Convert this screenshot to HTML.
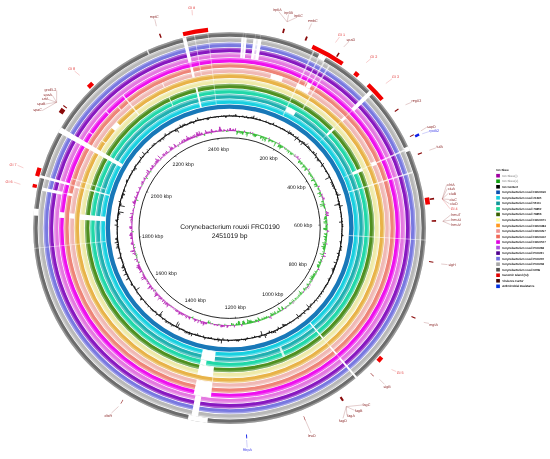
<!DOCTYPE html><html><head><meta charset="utf-8"><title>BRIG</title><style>html,body{margin:0;padding:0;background:#fff}svg{display:block}text{font-family:"Liberation Sans",Arial,sans-serif;text-rendering:geometricPrecision}</style></head><body>
<svg width="550" height="459" viewBox="0 0 550 459">
<rect width="550" height="459" fill="#fff"/>
<g transform="translate(0 228.1) scale(1 0.997) translate(0 -228.1)">
<circle cx="229.6" cy="228.1" r="121.80" fill="none" stroke="#1878b8" stroke-width="4.4"/>
<circle cx="229.6" cy="228.1" r="126.97" fill="none" stroke="#18d0e0" stroke-width="4.4"/>
<circle cx="229.6" cy="228.1" r="128.42" fill="none" stroke="#fff" stroke-opacity="0.3" stroke-width="1.5"/>
<circle cx="229.6" cy="228.1" r="132.14" fill="none" stroke="#20b0b0" stroke-width="4.4"/>
<circle cx="229.6" cy="228.1" r="133.59" fill="none" stroke="#fff" stroke-opacity="0.3" stroke-width="1.5"/>
<circle cx="229.6" cy="228.1" r="137.31" fill="none" stroke="#20d8a8" stroke-width="4.4"/>
<circle cx="229.6" cy="228.1" r="138.76" fill="none" stroke="#fff" stroke-opacity="0.3" stroke-width="1.5"/>
<circle cx="229.6" cy="228.1" r="142.48" fill="none" stroke="#4f9020" stroke-width="4.4"/>
<circle cx="229.6" cy="228.1" r="143.93" fill="none" stroke="#fff" stroke-opacity="0.3" stroke-width="1.5"/>
<circle cx="229.6" cy="228.1" r="147.65" fill="none" stroke="#eeeaa8" stroke-width="4.4"/>
<circle cx="229.6" cy="228.1" r="149.10" fill="none" stroke="#fff" stroke-opacity="0.3" stroke-width="1.5"/>
<circle cx="229.6" cy="228.1" r="152.82" fill="none" stroke="#e8b348" stroke-width="4.4"/>
<circle cx="229.6" cy="228.1" r="154.27" fill="none" stroke="#fff" stroke-opacity="0.3" stroke-width="1.5"/>
<circle cx="229.6" cy="228.1" r="157.99" fill="none" stroke="#f0b8b4" stroke-width="4.4"/>
<circle cx="229.6" cy="228.1" r="159.44" fill="none" stroke="#fff" stroke-opacity="0.3" stroke-width="1.5"/>
<circle cx="229.6" cy="228.1" r="163.16" fill="none" stroke="#ee8478" stroke-width="4.4"/>
<circle cx="229.6" cy="228.1" r="164.61" fill="none" stroke="#fff" stroke-opacity="0.3" stroke-width="1.5"/>
<circle cx="229.6" cy="228.1" r="168.33" fill="none" stroke="#ee10ee" stroke-width="4.4"/>
<circle cx="229.6" cy="228.1" r="169.78" fill="none" stroke="#fff" stroke-opacity="0.3" stroke-width="1.5"/>
<circle cx="229.6" cy="228.1" r="173.50" fill="none" stroke="#e478e0" stroke-width="4.4"/>
<circle cx="229.6" cy="228.1" r="174.95" fill="none" stroke="#fff" stroke-opacity="0.3" stroke-width="1.5"/>
<circle cx="229.6" cy="228.1" r="178.67" fill="none" stroke="#8818c0" stroke-width="4.4"/>
<circle cx="229.6" cy="228.1" r="180.12" fill="none" stroke="#fff" stroke-opacity="0.3" stroke-width="1.5"/>
<circle cx="229.6" cy="228.1" r="183.84" fill="none" stroke="#7878e0" stroke-width="4.4"/>
<circle cx="229.6" cy="228.1" r="185.29" fill="none" stroke="#fff" stroke-opacity="0.3" stroke-width="1.5"/>
<circle cx="229.6" cy="228.1" r="189.01" fill="none" stroke="#b8b8b8" stroke-width="4.4"/>
<circle cx="229.6" cy="228.1" r="190.46" fill="none" stroke="#fff" stroke-opacity="0.3" stroke-width="1.5"/>
<circle cx="229.6" cy="228.1" r="194.18" fill="none" stroke="#6c6c6c" stroke-width="4.4"/>
<circle cx="229.6" cy="228.1" r="195.63" fill="none" stroke="#fff" stroke-opacity="0.3" stroke-width="1.5"/>
<path d="M185.44,49.64A183.84,183.84 0 0 1 188.87,48.83" fill="none" stroke="#fff" stroke-opacity="1" stroke-width="25.68"/>
<path d="M189.45,64.63A168.33,168.33 0 0 1 191.73,64.08" fill="none" stroke="#fff" stroke-opacity="0.35" stroke-width="5.00"/>
<path d="M191.30,72.16A160.57,160.57 0 0 1 193.75,71.58" fill="none" stroke="#fff" stroke-opacity="1" stroke-width="10.17"/>
<path d="M197.69,97.21A134.73,134.73 0 0 1 199.52,96.78" fill="none" stroke="#fff" stroke-opacity="1" stroke-width="20.51"/>
<path d="M197.51,54.96A176.08,176.08 0 0 1 198.42,54.80" fill="none" stroke="#fff" stroke-opacity="0.5" stroke-width="41.19"/>
<path d="M211.70,68.53A160.57,160.57 0 0 1 212.54,68.43" fill="none" stroke="#fff" stroke-opacity="0.5" stroke-width="72.21"/>
<path d="M240.98,47.20A181.25,181.25 0 0 1 245.71,47.56" fill="none" stroke="#fff" stroke-opacity="0.8" stroke-width="20.51"/>
<path d="M240.98,47.20A181.25,181.25 0 0 1 242.72,47.32" fill="none" stroke="#fff" stroke-opacity="1" stroke-width="20.51"/>
<path d="M243.82,47.40A181.25,181.25 0 0 1 245.71,47.56" fill="none" stroke="#fff" stroke-opacity="1" stroke-width="20.51"/>
<path d="M242.81,34.37A194.18,194.18 0 0 1 243.48,34.42" fill="none" stroke="#fff" stroke-opacity="0.3" stroke-width="5.00"/>
<path d="M245.51,34.57A194.18,194.18 0 0 1 246.19,34.63" fill="none" stroke="#fff" stroke-opacity="0.3" stroke-width="5.00"/>
<path d="M252.32,48.27A181.25,181.25 0 0 1 259.83,49.38" fill="none" stroke="#fff" stroke-opacity="0.75" stroke-width="20.51"/>
<path d="M252.32,48.27A181.25,181.25 0 0 1 254.83,48.61" fill="none" stroke="#fff" stroke-opacity="1" stroke-width="20.51"/>
<path d="M256.70,48.88A181.25,181.25 0 0 1 259.83,49.38" fill="none" stroke="#fff" stroke-opacity="1" stroke-width="20.51"/>
<path d="M254.95,35.58A194.18,194.18 0 0 1 255.62,35.67" fill="none" stroke="#fff" stroke-opacity="0.3" stroke-width="5.00"/>
<path d="M259.98,36.31A194.18,194.18 0 0 1 260.65,36.42" fill="none" stroke="#fff" stroke-opacity="0.3" stroke-width="5.00"/>
<path d="M270.76,75.56A157.99,157.99 0 0 1 282.34,79.17" fill="none" stroke="#fff" stroke-opacity="1" stroke-width="5.00"/>
<path d="M296.62,85.03A157.99,157.99 0 0 1 308.83,91.41" fill="none" stroke="#fff" stroke-opacity="1" stroke-width="5.00"/>
<path d="M306.70,84.31A163.16,163.16 0 0 1 310.69,86.52" fill="none" stroke="#fff" stroke-opacity="1" stroke-width="5.00"/>
<path d="M286.28,108.73A132.14,132.14 0 0 1 294.87,113.20" fill="none" stroke="#fff" stroke-opacity="1" stroke-width="5.00"/>
<path d="M297.72,82.69A160.57,160.57 0 0 1 298.98,83.29" fill="none" stroke="#fff" stroke-opacity="0.6" stroke-width="72.21"/>
<path d="M318.36,55.39A194.18,194.18 0 0 1 324.92,58.93" fill="none" stroke="#fff" stroke-opacity="1" stroke-width="5.00"/>
<path d="M310.63,71.77A176.08,176.08 0 0 1 311.72,72.34" fill="none" stroke="#fff" stroke-opacity="0.6" stroke-width="30.85"/>
<path d="M317.04,72.29A178.67,178.67 0 0 1 318.39,73.06" fill="none" stroke="#fff" stroke-opacity="0.6" stroke-width="25.68"/>
<path d="M315.46,86.33A165.75,165.75 0 0 1 316.69,87.08" fill="none" stroke="#fff" stroke-opacity="0.6" stroke-width="51.53"/>
<path d="M360.50,99.02A183.84,183.84 0 0 1 363.39,102.02" fill="none" stroke="#fff" stroke-opacity="1" stroke-width="25.68"/>
<path d="M342.48,117.56A157.99,157.99 0 0 1 344.39,119.55" fill="none" stroke="#fff" stroke-opacity="1" stroke-width="5.00"/>
<path d="M329.72,130.40A139.89,139.89 0 0 1 331.41,132.16" fill="none" stroke="#fff" stroke-opacity="1" stroke-width="10.17"/>
<path d="M322.64,137.94A129.56,129.56 0 0 1 323.26,138.59" fill="none" stroke="#fff" stroke-opacity="0.4" stroke-width="10.17"/>
<path d="M337.49,123.55A150.24,150.24 0 0 1 338.21,124.31" fill="none" stroke="#fff" stroke-opacity="0.4" stroke-width="10.17"/>
<path d="M348.63,112.76A165.75,165.75 0 0 1 349.43,113.59" fill="none" stroke="#fff" stroke-opacity="0.4" stroke-width="10.17"/>
<path d="M406.01,146.96A194.18,194.18 0 0 1 407.94,151.29" fill="none" stroke="#fff" stroke-opacity="1" stroke-width="5.00"/>
<path d="M390.08,155.64A176.08,176.08 0 0 1 390.71,157.04" fill="none" stroke="#fff" stroke-opacity="0.8" stroke-width="30.85"/>
<path d="M373.02,161.83A157.99,157.99 0 0 1 374.60,165.35" fill="none" stroke="#fff" stroke-opacity="1" stroke-width="5.00"/>
<path d="M356.80,169.86A139.89,139.89 0 0 1 358.09,172.77" fill="none" stroke="#fff" stroke-opacity="1" stroke-width="10.17"/>
<path d="M347.77,174.99A129.56,129.56 0 0 1 348.14,175.82" fill="none" stroke="#fff" stroke-opacity="0.5" stroke-width="10.17"/>
<path d="M366.63,166.52A150.24,150.24 0 0 1 367.06,167.47" fill="none" stroke="#fff" stroke-opacity="0.5" stroke-width="10.17"/>
<path d="M380.52,181.38A157.99,157.99 0 0 1 380.93,182.70" fill="none" stroke="#fff" stroke-opacity="0.8" stroke-width="67.04"/>
<path d="M387.31,237.47A157.99,157.99 0 0 1 387.26,238.30" fill="none" stroke="#fff" stroke-opacity="0.6" stroke-width="77.38"/>
<path d="M317.10,330.55A134.73,134.73 0 0 1 316.02,331.46" fill="none" stroke="#fff" stroke-opacity="1" stroke-width="20.51"/>
<path d="M326.97,342.51A150.24,150.24 0 0 1 326.17,343.19" fill="none" stroke="#fff" stroke-opacity="0.4" stroke-width="10.17"/>
<path d="M338.70,356.29A168.33,168.33 0 0 1 337.80,357.05" fill="none" stroke="#fff" stroke-opacity="0.4" stroke-width="5.00"/>
<path d="M333.89,350.20A160.57,160.57 0 0 1 332.60,351.29" fill="none" stroke="#fff" stroke-opacity="1" stroke-width="10.17"/>
<path d="M348.99,367.89A183.84,183.84 0 0 1 347.52,369.14" fill="none" stroke="#fff" stroke-opacity="1" stroke-width="25.68"/>
<path d="M283.11,351.74A134.72,134.72 0 0 1 280.94,352.66" fill="none" stroke="#fff" stroke-opacity="0.8" stroke-width="10.17"/>
<path d="M215.16,356.85A129.56,129.56 0 0 1 201.78,354.63" fill="none" stroke="#fff" stroke-opacity="1" stroke-width="10.17"/>
<path d="M213.43,372.26A145.06,145.06 0 0 1 198.45,369.78" fill="none" stroke="#fff" stroke-opacity="1" stroke-width="10.17"/>
<path d="M206.23,363.41A137.31,137.31 0 0 1 200.35,362.26" fill="none" stroke="#fff" stroke-opacity="1" stroke-width="5.00"/>
<path d="M213.10,380.03A152.82,152.82 0 0 1 212.30,379.94" fill="none" stroke="#fff" stroke-opacity="0.7" stroke-width="5.00"/>
<path d="M211.70,390.27A163.16,163.16 0 0 1 195.12,387.58" fill="none" stroke="#fff" stroke-opacity="1" stroke-width="15.34"/>
<path d="M199.68,406.87A181.25,181.25 0 0 1 193.46,405.72" fill="none" stroke="#fff" stroke-opacity="1" stroke-width="20.51"/>
<path d="M207.62,421.03A194.18,194.18 0 0 1 188.23,417.82" fill="none" stroke="#fff" stroke-opacity="1" stroke-width="5.00"/>
<path d="M69.96,245.44A160.57,160.57 0 0 1 69.88,244.61" fill="none" stroke="#fff" stroke-opacity="0.5" stroke-width="72.21"/>
<path d="M92.50,220.44A137.31,137.31 0 0 1 92.88,215.42" fill="none" stroke="#fff" stroke-opacity="1" stroke-width="25.68"/>
<path d="M71.90,218.45A157.99,157.99 0 0 1 72.29,213.51" fill="none" stroke="#fff" stroke-opacity="1" stroke-width="5.00"/>
<path d="M61.58,217.82A168.33,168.33 0 0 1 62.02,212.26" fill="none" stroke="#fff" stroke-opacity="1" stroke-width="5.00"/>
<path d="M35.82,215.57A194.18,194.18 0 0 1 36.38,208.81" fill="none" stroke="#fff" stroke-opacity="1" stroke-width="5.00"/>
<path d="M51.86,192.58A181.25,181.25 0 0 1 52.51,189.49" fill="none" stroke="#fff" stroke-opacity="1" stroke-width="20.51"/>
<path d="M69.72,195.57A163.16,163.16 0 0 1 70.25,193.06" fill="none" stroke="#fff" stroke-opacity="1" stroke-width="5.00"/>
<path d="M64.77,193.96A168.33,168.33 0 0 1 65.01,192.81" fill="none" stroke="#fff" stroke-opacity="0.5" stroke-width="5.00"/>
<path d="M54.44,181.49A181.25,181.25 0 0 1 55.11,179.05" fill="none" stroke="#fff" stroke-opacity="1" stroke-width="30.85"/>
<path d="M76.78,188.01A157.99,157.99 0 0 1 77.28,186.14" fill="none" stroke="#fff" stroke-opacity="1" stroke-width="5.00"/>
<path d="M72.00,185.87A163.16,163.16 0 0 1 72.37,184.50" fill="none" stroke="#fff" stroke-opacity="0.5" stroke-width="5.00"/>
<path d="M99.47,193.23A134.73,134.73 0 0 1 99.84,191.87" fill="none" stroke="#fff" stroke-opacity="0.9" stroke-width="20.51"/>
<path d="M84.48,189.22A150.24,150.24 0 0 1 84.83,187.95" fill="none" stroke="#fff" stroke-opacity="0.5" stroke-width="10.17"/>
<path d="M88.63,184.19A147.65,147.65 0 0 1 88.94,183.21" fill="none" stroke="#fff" stroke-opacity="0.6" stroke-width="36.02"/>
<path d="M89.57,149.52A160.57,160.57 0 0 1 91.96,145.40" fill="none" stroke="#fff" stroke-opacity="1" stroke-width="72.21"/>
<path d="M113.22,129.05A152.82,152.82 0 0 1 118.38,123.29" fill="none" stroke="#fff" stroke-opacity="1" stroke-width="5.00"/>
<path d="M103.36,141.98A152.82,152.82 0 0 1 103.96,141.10" fill="none" stroke="#fff" stroke-opacity="0.8" stroke-width="5.00"/>
<path d="M90.54,133.24A168.33,168.33 0 0 1 91.21,132.27" fill="none" stroke="#fff" stroke-opacity="0.8" stroke-width="5.00"/>
<path d="M107.09,112.66A168.33,168.33 0 0 1 107.90,111.80" fill="none" stroke="#fff" stroke-opacity="0.8" stroke-width="5.00"/>
<path d="M118.95,108.19A163.16,163.16 0 0 1 119.79,107.42" fill="none" stroke="#fff" stroke-opacity="0.8" stroke-width="5.00"/>
<path d="M130.39,105.15A157.99,157.99 0 0 1 131.46,104.28" fill="none" stroke="#fff" stroke-opacity="0.8" stroke-width="25.68"/>
<path d="M170.48,101.31A139.89,139.89 0 0 1 171.36,100.90" fill="none" stroke="#fff" stroke-opacity="0.8" stroke-width="10.17"/>
<path d="M162.83,84.91A157.99,157.99 0 0 1 163.83,84.45" fill="none" stroke="#fff" stroke-opacity="0.8" stroke-width="5.00"/>
<path d="M147.54,52.11A194.18,194.18 0 0 1 148.77,51.54" fill="none" stroke="#fff" stroke-opacity="0.8" stroke-width="5.00"/>
<circle cx="229.6" cy="228.1" r="90.6" fill="none" stroke="#111" stroke-width="0.9"/>
<circle cx="229.6" cy="228.1" r="112.5" fill="none" stroke="#000" stroke-width="0.8"/>
<path d="M229.9,115.9L229.9,115.4M230.6,115.4L230.6,115.9M231.2,115.9L231.2,115.0M231.8,115.9L231.9,115.2M232.5,115.4L232.5,116.2M233.1,115.4L233.1,116.2M233.8,115.9L233.8,114.6M234.4,115.5L234.4,115.8M235.0,116.0L235.1,114.5M235.7,116.0L235.8,113.7M236.3,116.1L236.4,115.0M237.0,116.1L237.0,115.4M237.6,115.6L237.6,115.9M238.3,115.7L238.2,116.3M238.9,115.7L238.9,116.6M239.6,115.8L239.4,117.3M240.2,115.9L240.2,116.5M240.9,115.9L240.8,116.3M241.4,116.5L241.5,115.9M242.1,116.5L242.2,115.4M242.7,116.6L242.9,115.3M243.4,116.7L243.4,116.1M244.0,116.8L244.0,116.4M244.7,116.4L244.5,117.6M245.3,116.5L245.2,117.1M245.9,117.0L246.0,116.3M246.5,117.1L246.8,115.5M247.2,117.2L247.2,116.9M247.9,116.8L247.6,118.2M248.5,116.9L248.3,118.0M249.1,117.1L248.9,118.2M249.7,117.7L249.7,117.4M250.3,117.8L250.5,116.8M250.9,117.9L251.2,116.8M251.6,118.0L251.9,116.2M252.2,118.1L252.4,117.3M252.8,118.3L253.3,116.3M253.5,118.4L254.1,115.3M254.2,118.1L254.1,118.5M254.7,118.7L254.9,118.1M255.3,118.8L255.6,117.9M256.0,119.0L256.1,118.4M256.6,119.1L257.0,117.3M257.3,118.8L257.2,119.3M257.8,119.5L258.0,118.8M258.6,119.1L258.5,119.5M259.1,119.8L259.4,118.5M259.7,120.0L260.0,118.8M260.3,120.1L260.6,119.0M260.9,120.3L261.0,120.0M261.5,120.5L261.6,120.2M262.1,120.7L262.3,120.3M262.8,120.9L262.9,120.5M263.5,120.6L263.3,121.2M264.1,120.8L264.1,121.0M264.7,121.0L264.6,121.6M265.2,121.6L265.5,120.9M265.8,121.9L266.3,120.3M266.6,121.6L266.3,122.3M267.0,122.3L267.1,121.9M267.6,122.5L268.0,121.5M268.4,122.2L268.3,122.6M269.0,122.5L268.6,123.6M269.6,122.7L269.4,123.3M270.2,122.9L269.7,124.1M270.8,123.1L270.3,124.4M271.4,123.4L271.2,123.9M271.8,124.1L271.9,123.8M272.4,124.3L273.0,122.9M273.0,124.6L273.9,122.4M273.6,124.8L273.8,124.2M274.4,124.6L274.1,125.2M275.0,124.9L274.9,125.1M275.6,125.1L275.3,125.8M275.9,125.9L276.5,124.7M276.5,126.1L276.8,125.6M277.3,125.9L277.0,126.7M277.9,126.2L277.8,126.5M278.5,126.5L278.3,126.8M278.8,127.2L279.2,126.4M279.6,127.1L279.4,127.5M280.0,127.8L280.4,127.0M280.6,128.1L280.8,127.7M281.4,127.9L280.8,129.0M281.7,128.7L282.1,127.9M282.3,129.0L283.0,127.7M282.8,129.3L283.2,128.6M283.6,129.1L283.3,129.8M284.0,129.9L284.6,128.8M284.5,130.2L284.9,129.6M285.1,130.5L285.6,129.7M285.6,130.8L285.9,130.4M286.4,130.7L286.2,131.2M286.7,131.5L287.4,130.4M287.3,131.8L287.5,131.4M288.1,131.7L287.9,132.0M288.4,132.5L289.7,130.3M289.2,132.4L288.2,134.0M289.5,133.2L290.3,131.8M290.0,133.5L291.2,131.7M290.6,133.8L291.3,132.7M291.1,134.2L291.8,133.1M291.6,134.5L292.2,133.7M292.2,134.9L292.7,134.2M292.7,135.3L293.7,133.7M293.2,135.6L293.6,135.0M293.8,136.0L293.9,135.7M294.3,136.4L294.4,136.1M294.8,136.7L295.3,136.0M295.3,137.1L296.2,135.9M295.8,137.5L296.1,137.1M296.7,137.5L294.6,140.2M296.9,138.2L298.2,136.5M297.4,138.6L298.3,137.4M297.9,139.0L298.3,138.5M298.4,139.4L299.0,138.7M298.9,139.8L299.2,139.4M299.7,139.8L299.0,140.7M300.2,140.2L299.0,141.7M300.7,140.6L299.2,142.4M300.9,141.4L301.3,140.9M301.4,141.8L302.3,140.8M301.9,142.2L303.0,140.9M302.7,142.3L300.6,144.8M302.9,143.1L304.0,141.8M303.4,143.5L304.6,142.1M303.8,143.9L304.7,142.9M304.3,144.3L305.0,143.5M304.8,144.8L305.8,143.6M305.3,145.2L306.0,144.4M305.7,145.6L307.9,143.3M306.5,145.7L306.2,146.0M307.0,146.1L306.7,146.5M307.1,146.9L308.5,145.6M307.6,147.4L309.0,145.9M308.1,147.8L308.9,147.0M308.5,148.3L309.6,147.1M309.0,148.7L309.8,147.9M309.8,148.8L308.9,149.7M309.9,149.6L310.7,148.9M310.7,149.8L309.8,150.6M310.8,150.6L311.0,150.4M311.2,151.0L311.6,150.6M311.6,151.5L311.9,151.3M312.1,152.0L312.8,151.3M312.5,152.4L313.9,151.2M312.9,152.9L313.9,152.0M313.4,153.4L314.8,152.1M313.8,153.9L314.2,153.5M314.2,154.3L314.6,154.0M314.6,154.8L316.8,153.0M315.1,155.3L316.1,154.5M315.5,155.8L316.7,154.7M315.9,156.3L316.3,155.9M316.7,156.5L314.8,158.0M317.1,157.0L316.3,157.7M317.1,157.8L317.5,157.4M317.9,158.0L317.3,158.4M318.3,158.5L316.8,159.6M318.7,159.0L316.9,160.4M319.1,159.5L317.7,160.6M319.5,160.0L318.4,160.8M319.9,160.5L319.2,161.0M319.8,161.3L321.0,160.5M320.6,161.6L320.3,161.8M320.6,162.4L321.0,162.1M321.0,162.9L321.8,162.3M321.3,163.4L321.9,163.1M322.1,163.7L321.5,164.1M322.1,164.5L324.0,163.1M322.9,164.7L320.8,166.1M323.2,165.3L321.4,166.5M323.6,165.8L323.1,166.1M323.9,166.3L323.4,166.7M324.3,166.9L324.0,167.1M324.6,167.4L324.0,167.8M325.0,168.0L324.2,168.4M325.3,168.5L324.6,169.0M325.7,169.1L325.4,169.2M326.0,169.6L325.2,170.1M325.9,170.4L326.3,170.2M326.6,170.7L325.1,171.6M327.0,171.3L326.0,171.8M327.3,171.8L326.6,172.2M327.6,172.4L327.1,172.7M327.9,172.9L326.8,173.6M327.8,173.7L328.1,173.6M328.1,174.3L329.1,173.8M328.4,174.9L329.2,174.5M329.2,175.2L328.8,175.4M329.5,175.8L328.3,176.4M329.3,176.6L329.9,176.3M330.1,176.9L325.3,179.3M330.4,177.5L329.7,177.8M330.6,178.1L330.0,178.4M330.9,178.6L330.3,179.0M330.8,179.4L331.0,179.3M331.0,180.0L331.8,179.7M331.3,180.6L332.2,180.2M331.6,181.2L332.0,181.0M332.3,181.6L330.3,182.5M332.6,182.1L331.9,182.4M332.8,182.7L331.8,183.2M333.1,183.3L331.0,184.2M332.9,184.1L333.2,184.0M333.6,184.5L332.3,185.0M333.8,185.1L331.9,185.9M334.1,185.7L332.3,186.4M334.3,186.3L333.8,186.5M334.6,186.9L333.8,187.2M334.8,187.5L332.9,188.2M335.0,188.1L334.3,188.4M335.2,188.7L334.6,189.0M335.0,189.5L336.0,189.1M335.2,190.1L336.4,189.6M335.4,190.7L336.1,190.4M336.1,191.1L335.6,191.3M335.8,191.9L337.0,191.5M336.1,192.5L337.0,192.2M336.3,193.1L337.7,192.6M336.9,193.6L335.5,194.0M336.6,194.3L338.4,193.8M336.8,194.9L338.3,194.5M337.0,195.6L340.6,194.5M337.2,196.2L337.6,196.1M337.4,196.8L337.9,196.6M338.1,197.3L337.0,197.6M338.2,197.9L337.5,198.1M337.9,198.6L338.2,198.6M338.6,199.1L338.3,199.2M338.7,199.7L337.7,200.0M338.9,200.4L337.7,200.7M339.0,201.0L337.8,201.3M338.7,201.7L339.8,201.5M338.9,202.4L339.4,202.2M339.5,202.9L338.3,203.2M339.6,203.5L337.4,204.0M339.8,204.1L334.4,205.3M339.9,204.8L338.4,205.1M340.0,205.4L338.9,205.6M339.7,206.1L342.7,205.5M340.3,206.7L339.0,206.9M340.4,207.3L339.2,207.5M340.5,207.9L339.5,208.1M340.6,208.6L340.2,208.6M340.8,209.2L339.5,209.4M340.4,209.9L340.8,209.8M340.5,210.5L341.0,210.5M340.6,211.2L341.0,211.1M341.2,211.7L340.7,211.8M341.2,212.4L340.1,212.5M341.3,213.0L340.7,213.1M341.4,213.6L340.7,213.7M341.5,214.3L340.8,214.4M341.1,215.0L341.8,214.9M341.7,215.6L340.8,215.7M341.7,216.2L340.6,216.3M341.8,216.8L340.6,217.0M341.8,217.5L341.5,217.5M341.9,218.1L341.3,218.2M341.5,218.8L342.6,218.7M342.0,219.4L341.5,219.5M342.1,220.1L341.2,220.1M342.1,220.7L341.0,220.8M341.6,221.4L343.0,221.3M342.2,222.0L339.0,222.2M341.7,222.7L342.2,222.6M342.2,223.3L341.6,223.3M341.8,223.9L342.3,223.9M341.8,224.6L343.2,224.5M341.8,225.2L342.4,225.2M341.8,225.9L343.2,225.8M341.8,226.5L343.3,226.5M341.8,227.1L342.4,227.1M341.8,227.8L342.4,227.8M341.8,228.4L342.2,228.4M342.3,229.1L341.4,229.1M341.8,229.7L342.5,229.7M342.3,230.4L341.5,230.3M341.8,231.0L342.1,231.0M342.3,231.6L341.4,231.6M341.8,232.3L342.4,232.3M342.2,232.9L341.8,232.9M342.2,233.6L341.1,233.5M342.2,234.2L341.6,234.2M341.6,234.8L342.9,234.9M341.6,235.5L343.5,235.6M341.6,236.1L342.5,236.2M342.0,236.8L341.3,236.7M342.0,237.4L341.0,237.4M341.4,238.0L342.0,238.1M341.8,238.7L341.6,238.7M341.3,239.3L342.1,239.4M341.2,239.9L341.9,240.0M341.2,240.6L342.0,240.7M341.6,241.3L340.9,241.2M341.5,241.9L339.5,241.7M341.4,242.6L340.1,242.4M341.3,243.2L340.4,243.1M341.2,243.8L340.0,243.7M340.7,244.4L341.1,244.5M340.6,245.0L341.2,245.1M341.0,245.7L340.5,245.7M340.4,246.3L342.0,246.6M340.3,246.9L342.1,247.2M340.2,247.6L340.4,247.6M340.5,248.3L339.5,248.1M339.9,248.8L341.7,249.1M339.8,249.4L340.7,249.6M339.7,250.1L341.6,250.5M340.0,250.8L339.0,250.6M339.9,251.4L338.5,251.1M339.3,252.0L339.8,252.1M339.6,252.7L339.3,252.6M339.5,253.3L338.0,253.0M339.3,254.0L336.8,253.3M339.2,254.6L338.3,254.4M338.6,255.1L339.9,255.4M338.4,255.7L339.2,255.9M338.2,256.3L338.8,256.5M338.6,257.1L337.3,256.7M338.4,257.7L337.4,257.4M337.7,258.2L338.4,258.4M337.6,258.8L338.2,259.0M337.4,259.4L338.4,259.7M337.7,260.2L336.1,259.7M337.5,260.8L336.6,260.5M337.3,261.4L336.8,261.2M337.1,262.0L336.9,261.9M336.9,262.6L336.0,262.3M336.7,263.2L333.7,262.2M336.1,263.7L336.8,263.9M336.3,264.5L335.4,264.2M336.1,265.1L335.4,264.8M335.9,265.7L335.5,265.5M335.7,266.3L334.2,265.8M335.5,266.9L334.0,266.3M335.2,267.5L334.2,267.1M335.0,268.1L334.0,267.7M334.8,268.7L332.9,268.0M334.6,269.3L332.9,268.7M334.3,269.9L331.5,268.8M334.1,270.5L332.5,269.9M333.8,271.1L332.4,270.5M333.6,271.7L331.9,271.0M333.3,272.3L332.6,272.0M332.6,272.7L333.6,273.1M332.8,273.5L332.4,273.3M332.1,273.9L332.6,274.1M332.3,274.6L331.9,274.5M332.0,275.2L331.5,275.0M331.8,275.8L331.3,275.6M331.5,276.4L330.3,275.8M330.8,276.8L331.3,277.0M330.5,277.3L331.1,277.6M330.6,278.1L330.2,277.9M330.4,278.7L329.0,278.0M330.1,279.3L329.1,278.8M329.8,279.9L327.8,278.9M329.5,280.4L328.8,280.1M329.2,281.0L328.0,280.4M328.4,281.3L328.8,281.5M328.1,281.9L328.3,282.0M327.8,282.5L328.6,282.9M327.5,283.0L328.1,283.4M327.2,283.6L328.1,284.1M326.9,284.1L327.9,284.7M327.0,284.9L326.2,284.5M326.6,285.5L326.1,285.2M326.3,286.0L325.0,285.3M325.6,286.3L326.4,286.9M325.2,286.9L325.5,287.0M325.3,287.7L324.3,287.0M325.0,288.2L324.0,287.6M324.6,288.8L323.8,288.3M324.3,289.3L323.8,289.0M323.9,289.9L323.1,289.3M323.6,290.4L323.3,290.2M323.2,290.9L322.4,290.4M322.4,291.2L323.9,292.2M322.5,292.0L322.1,291.7M322.1,292.5L321.2,291.9M321.8,293.1L320.8,292.4M321.0,293.3L322.2,294.2M320.6,293.8L321.4,294.4M320.2,294.3L320.7,294.7M319.8,294.9L320.3,295.2M319.5,295.4L320.1,295.9M319.1,295.9L320.6,297.0M318.7,296.4L319.3,296.8M318.3,296.9L319.0,297.4M317.9,297.4L318.1,297.6M317.5,297.9L318.5,298.7M317.1,298.4L317.6,298.8M317.1,299.2L316.9,299.0M316.7,299.7L316.3,299.4M315.9,299.9L317.6,301.3M315.9,300.7L315.6,300.5M315.4,301.2L314.7,300.6M315.0,301.7L314.1,300.9M314.2,301.9L315.0,302.6M313.8,302.3L314.6,303.0M313.4,302.8L314.0,303.3M313.3,303.6L312.9,303.2M312.9,304.1L312.6,303.9M312.4,304.6L311.6,303.8M312.0,305.0L311.7,304.8M311.6,305.5L310.1,304.1M311.1,306.0L310.3,305.2M310.7,306.4L309.8,305.6M309.9,306.6L311.3,307.9M309.8,307.4L308.8,306.4M309.3,307.8L306.5,305.0M308.5,307.9L309.2,308.6M308.1,308.4L309.3,309.7M307.6,308.8L308.9,310.2M307.1,309.3L308.2,310.4M306.7,309.7L307.3,310.4M306.2,310.1L306.6,310.6M305.7,310.6L306.1,311.0M305.3,311.0L305.6,311.4M305.1,311.8L303.8,310.4M304.3,311.9L304.6,312.2M303.8,312.3L305.2,313.9M303.4,312.7L304.5,314.1M302.9,313.1L303.3,313.6M302.7,313.9L302.1,313.2M302.2,314.4L301.7,313.7M301.7,314.8L301.2,314.1M300.9,314.8L301.6,315.6M300.4,315.2L301.1,316.1M299.9,315.6L300.8,316.7M299.4,316.0L300.2,317.0M298.9,316.4L299.8,317.5M298.7,317.2L296.4,314.3M297.9,317.2L298.4,317.8M297.4,317.6L298.6,319.2M297.2,318.4L296.9,318.0M296.7,318.7L296.3,318.3M296.1,319.1L295.8,318.6M295.6,319.5L295.3,319.1M294.8,319.5L295.1,319.9M294.6,320.3L294.3,319.9M293.8,320.2L294.3,321.0M293.2,320.6L293.6,321.1M292.7,320.9L293.2,321.7M292.2,321.3L292.4,321.7M291.9,322.1L291.7,321.7M291.4,322.4L291.0,321.8M290.6,322.4L291.3,323.5M290.3,323.1L289.5,322.0M289.7,323.5L289.1,322.4M289.2,323.8L288.9,323.3M288.4,323.7L288.6,324.0M288.1,324.5L287.5,323.6M287.3,324.4L287.6,324.9M286.7,324.7L287.1,325.4M286.2,325.0L286.6,325.8M285.9,325.8L285.0,324.3M285.3,326.1L284.6,324.8M284.8,326.4L283.7,324.6M284.2,326.7L282.8,324.2M283.6,327.1L282.3,324.7M283.1,327.4L282.9,327.0M282.3,327.2L282.5,327.7M281.9,328.0L281.5,327.2M281.4,328.3L281.0,327.6M280.6,328.1L281.1,329.1M280.0,328.4L280.6,329.6M279.4,328.7L279.5,328.9M279.1,329.4L277.9,327.1M278.5,329.7L277.8,328.4M277.7,329.5L278.0,330.2M277.1,329.8L277.7,331.2M276.5,330.1L277.0,331.1M275.9,330.3L276.1,330.8M275.6,331.1L275.4,330.7M274.8,330.9L275.9,333.4M274.2,331.1L274.5,331.9M273.6,331.4L274.3,333.1M273.0,331.6L273.7,333.3M272.4,331.9L272.8,332.9M272.0,332.6L271.4,331.2M271.2,332.3L271.9,333.9M270.8,333.1L270.7,332.8M270.2,333.3L269.3,331.0M269.6,333.5L269.0,331.9M269.0,333.7L268.7,333.0M268.4,334.0L268.0,332.9M267.8,334.2L267.4,333.2M267.2,334.4L266.8,333.3M266.6,334.6L266.5,334.3M265.8,334.3L266.5,336.3M265.2,334.6L265.6,335.7M264.6,334.8L265.8,338.3M264.0,335.0L264.2,335.8M263.4,335.1L263.6,335.8M262.9,335.8L262.7,335.1M262.3,336.0L260.9,331.4M261.7,336.2L261.2,334.6M260.9,335.9L261.1,336.6M260.3,336.1L260.5,336.7M259.7,336.2L260.2,338.2M259.1,336.4L259.5,337.8M258.4,336.6L258.8,337.9M257.8,336.7L257.9,337.0M257.3,337.4L257.1,336.7M256.7,337.5L256.5,336.8M256.0,337.2L256.0,337.5M255.5,337.8L255.2,336.7M254.8,338.0L254.4,336.1M254.1,337.6L254.2,338.4M253.5,337.8L253.6,338.3M252.8,337.9L253.0,338.8M252.3,338.5L252.0,337.1M251.6,338.2L251.7,338.5M250.9,338.3L251.0,338.6M250.4,338.9L250.4,338.7M249.7,338.5L249.8,339.1M249.1,339.1L249.1,338.6M248.5,339.3L248.4,338.6M247.9,339.4L247.6,337.8M247.2,339.5L247.0,338.0M246.6,339.6L246.5,338.9M245.9,339.2L246.1,340.3M245.3,339.3L245.5,341.2M244.6,339.3L244.8,340.4M244.0,339.4L244.1,340.0M243.4,339.5L243.5,340.6M242.8,340.1L242.7,339.3M242.1,340.2L242.1,339.7M241.5,340.2L241.4,338.9M240.8,339.8L240.8,340.1M240.2,340.3L240.1,339.7M239.5,339.9L239.6,340.8M238.9,340.0L239.0,341.3M238.2,340.0L238.4,342.0M237.6,340.1L237.7,341.3M237.0,340.1L237.1,341.6M236.3,340.1L236.4,341.6M235.7,340.7L235.7,339.8M235.1,340.7L235.0,340.2M234.4,340.2L234.4,341.0M233.8,340.8L233.8,340.1M233.1,340.3L233.1,340.6M232.5,340.3L232.5,341.0M231.8,340.3L231.9,341.1M231.2,340.3L231.2,341.2M230.6,340.8L230.6,340.3M229.9,340.3L229.9,340.7M229.3,340.3L229.3,341.2M228.6,340.3L228.6,342.0M228.0,340.3L228.0,341.8M227.3,340.8L227.4,339.4M226.7,340.8L226.7,340.5M226.1,340.8L226.1,340.5M225.4,340.8L225.4,340.4M224.8,340.7L224.8,340.0M224.2,340.2L224.1,341.0M223.5,340.7L223.5,340.0M222.8,340.6L223.0,338.2M222.2,340.6L222.2,340.3M221.6,340.1L221.3,343.8M221.0,340.0L220.9,340.6M220.3,340.0L220.2,341.0M219.7,339.9L219.6,340.8M219.0,340.3L219.1,338.9M218.4,339.8L218.2,342.0M217.7,340.2L217.9,338.1M217.1,339.7L217.0,340.7M216.4,340.1L216.5,339.3M215.8,339.5L215.7,340.4M215.2,339.4L215.1,340.6M214.6,339.3L214.4,340.5M213.9,339.3L213.9,339.7M213.3,339.2L213.2,339.7M212.6,339.6L212.7,339.1M212.0,339.0L212.0,339.2M211.3,339.4L211.6,337.6M210.7,339.3L210.9,337.9M210.1,339.1L210.3,337.9M209.5,338.5L209.4,339.3M208.8,338.9L209.0,337.8M208.2,338.8L208.4,337.4M207.5,338.7L207.7,338.0M206.9,338.5L207.0,338.0M206.4,337.9L206.3,338.2M205.7,337.8L205.5,338.8M205.1,337.6L204.6,339.8M204.4,338.0L204.6,337.2M203.9,337.4L203.6,338.4M203.1,337.7L203.6,335.8M202.6,337.1L202.6,337.3M202.0,336.9L201.9,337.4M201.2,337.2L201.4,336.6M200.6,337.1L200.7,336.6M200.0,336.9L200.3,335.7M199.4,336.7L199.6,336.0M198.8,336.6L199.0,335.7M198.1,336.4L198.5,335.0M197.5,336.2L197.7,335.5M196.9,336.0L197.6,333.7M196.3,335.8L196.6,334.8M195.8,335.1L195.6,335.9M195.1,335.4L195.4,334.3M194.5,335.2L194.9,333.9M193.8,335.0L193.9,334.7M193.4,334.3L193.1,335.1M192.6,334.6L192.7,334.4M192.2,333.9L191.2,336.6M191.6,333.7L191.2,334.9M191.0,333.5L190.9,333.8M190.4,333.3L189.8,334.8M189.8,333.0L188.9,335.2M189.0,333.3L189.5,332.1M188.6,332.6L187.9,334.4M188.0,332.3L187.8,332.8M187.4,332.1L186.9,333.4M186.8,331.9L186.0,333.8M186.2,331.6L186.0,332.2M185.6,331.4L184.8,333.3M185.0,331.1L184.7,331.8M184.4,330.9L184.1,331.7M183.6,331.1L184.1,330.0M183.1,330.8L183.5,329.9M182.5,330.5L182.9,329.5M181.9,330.3L182.3,329.3M181.3,330.0L181.8,328.8M180.7,329.7L181.0,329.1M180.4,329.0L180.2,329.3M179.8,328.7L178.9,330.5M179.0,328.9L179.4,328.1M178.6,328.1L178.4,328.5M177.8,328.3L178.0,327.9M177.3,328.0L179.4,323.9M176.7,327.7L177.2,326.7M176.1,327.4L176.6,326.4M175.6,327.1L178.3,322.0M175.0,326.7L175.2,326.3M174.4,326.4L175.0,325.5M174.1,325.7L173.6,326.6M173.6,325.4L173.0,326.4M173.0,325.0L172.5,325.9M172.5,324.7L171.3,326.7M171.9,324.4L171.6,324.8M171.4,324.1L170.7,325.2M170.8,323.7L170.2,324.8M170.0,323.8L170.4,323.1M169.5,323.5L169.9,322.8M169.2,322.7L168.5,323.7M168.6,322.4L167.8,323.6M168.1,322.0L167.8,322.4M167.6,321.7L166.9,322.7M167.0,321.3L165.7,323.3M166.5,320.9L165.8,321.9M166.0,320.6L165.1,321.8M165.2,320.6L165.5,320.1M164.6,320.3L165.0,319.7M164.1,319.9L164.9,318.8M163.6,319.5L163.9,319.1M163.4,318.7L162.5,319.8M162.8,318.3L162.2,319.3M162.0,318.4L162.2,318.1M161.8,317.6L161.2,318.4M161.3,317.2L161.1,317.5M160.5,317.2L161.3,316.1M160.0,316.8L161.5,314.9M159.5,316.4L161.3,314.1M159.0,316.0L162.6,311.5M158.5,315.6L159.5,314.3M158.0,315.2L158.3,314.8M157.8,314.4L157.1,315.2M157.3,314.0L155.8,315.7M156.5,313.9L156.8,313.6M156.0,313.5L156.8,312.6M155.5,313.1L155.9,312.7M155.0,312.7L156.1,311.4M154.6,312.2L155.6,311.1M154.1,311.8L154.5,311.3M153.9,311.0L152.9,312.1M153.1,310.9L153.3,310.7M153.0,310.1L152.0,311.2M152.5,309.7L152.0,310.3M152.1,309.3L150.9,310.5M151.6,308.8L151.0,309.4M151.1,308.4L150.4,309.2M150.3,308.3L151.0,307.6M149.9,307.8L150.2,307.5M149.4,307.4L149.8,306.9M149.3,306.6L148.8,307.1M148.9,306.1L147.7,307.2M148.4,305.6L147.8,306.2M147.6,305.5L147.9,305.3M147.2,305.0L147.8,304.5M147.1,304.2L146.7,304.6M146.7,303.8L146.2,304.2M146.3,303.3L145.5,304.0M145.5,303.1L146.0,302.7M145.0,302.7L145.8,301.9M144.6,302.2L145.3,301.6M144.2,301.7L144.9,301.1M144.1,300.9L143.9,301.1M143.3,300.7L143.7,300.4M142.9,300.2L143.8,299.5M142.9,299.4L142.4,299.8M142.5,298.9L140.6,300.5M142.1,298.4L140.2,299.9M141.7,297.9L140.4,299.0M141.3,297.4L140.6,298.0M140.9,296.9L140.7,297.1M140.1,296.7L140.5,296.4M139.7,296.2L140.3,295.8M139.7,295.4L138.9,296.0M139.4,294.9L139.0,295.1M139.0,294.3L138.5,294.7M138.6,293.8L137.8,294.4M138.2,293.3L137.7,293.7M137.9,292.8L137.1,293.3M137.5,292.3L136.5,293.0M137.1,291.7L136.5,292.1M136.3,291.5L137.3,290.8M136.0,290.9L136.6,290.5M135.6,290.4L139.5,287.8M135.7,289.6L135.4,289.8M134.9,289.3L135.9,288.7M134.6,288.8L135.1,288.5M134.2,288.2L135.6,287.4M133.9,287.7L134.9,287.0M133.5,287.1L134.6,286.5M133.6,286.3L133.3,286.5M132.9,286.0L133.1,285.9M133.0,285.2L132.3,285.6M132.7,284.7L131.0,285.7M132.3,284.1L131.0,284.9M132.0,283.6L130.5,284.4M131.7,283.0L131.3,283.2M131.0,282.7L132.1,282.1M130.6,282.1L131.2,281.8M130.8,281.3L130.5,281.5M130.0,281.0L130.7,280.6M129.7,280.4L130.2,280.2M129.9,279.6L129.6,279.8M129.6,279.1L129.1,279.3M129.3,278.5L125.9,280.2M129.0,277.9L127.5,278.7M128.7,277.3L128.0,277.7M128.4,276.8L127.3,277.3M128.2,276.2L127.3,276.6M127.9,275.6L126.8,276.1M127.2,275.2L128.2,274.8M127.4,274.4L126.2,274.9M127.1,273.9L123.7,275.4M126.8,273.3L125.8,273.7M126.6,272.7L125.4,273.2M126.3,272.1L125.1,272.6M126.1,271.5L125.1,271.9M125.8,270.9L124.9,271.3M125.1,270.5L125.7,270.3M125.4,269.7L122.7,270.8M124.6,269.3L125.8,268.9M124.4,268.7L124.8,268.5M124.7,267.9L123.8,268.3M124.4,267.3L121.9,268.3M124.2,266.7L121.5,267.7M124.0,266.1L122.6,266.6M123.8,265.5L122.0,266.1M123.1,265.1L123.4,265.0M122.9,264.5L124.3,264.0M122.7,263.9L122.9,263.8M122.9,263.1L122.6,263.2M122.3,262.6L123.7,262.2M122.1,262.0L123.0,261.7M121.9,261.4L122.6,261.2M121.7,260.8L122.4,260.6M121.5,260.2L122.7,259.8M121.8,259.4L121.1,259.6M121.6,258.8L120.9,259.0M121.5,258.2L120.2,258.5M121.3,257.6L117.7,258.5M120.6,257.1L120.9,257.0M121.0,256.3L120.2,256.5M120.8,255.7L119.8,256.0M120.2,255.2L121.4,254.9M120.0,254.6L120.4,254.5M119.9,254.0L121.4,253.6M119.7,253.3L120.2,253.2M119.6,252.7L120.3,252.5M119.4,252.1L119.8,252.0M119.3,251.4L119.9,251.3M119.6,250.7L118.7,250.9M119.5,250.1L118.8,250.2M118.9,249.5L120.2,249.3M119.3,248.8L118.7,248.9M119.2,248.2L118.0,248.4M119.0,247.6L115.9,248.1M118.9,246.9L118.0,247.1M118.8,246.3L116.7,246.6M118.7,245.7L118.3,245.7M118.6,245.0L116.9,245.3M118.5,244.4L116.6,244.7M118.4,243.8L118.0,243.8M118.4,243.1L118.0,243.2M118.3,242.5L114.7,242.9M118.2,241.9L116.7,242.0M118.1,241.2L116.7,241.4M118.0,240.6L116.9,240.7M118.0,239.9L116.6,240.1M117.9,239.3L115.5,239.5M117.8,238.7L115.2,238.9M117.8,238.0L115.9,238.2M117.7,237.4L117.2,237.4M117.7,236.7L117.0,236.8M117.6,236.1L116.7,236.2M117.6,235.5L117.1,235.5M117.1,234.9L117.4,234.8M117.5,234.2L116.5,234.2M117.5,233.5L116.9,233.6M117.5,232.9L116.5,232.9M116.9,232.3L117.5,232.3M117.4,231.6L116.7,231.6M117.4,231.0L117.1,231.0M116.9,230.4L117.6,230.3M117.4,229.7L116.7,229.7M116.9,229.1L117.7,229.1M116.9,228.4L117.5,228.4M116.9,227.8L117.5,227.8M116.9,227.1L118.2,227.1M116.9,226.5L118.4,226.5M116.9,225.8L117.1,225.9M117.4,225.2L114.6,225.1M116.9,224.6L117.7,224.6M117.4,223.9L116.7,223.9M117.0,223.3L117.5,223.3M117.5,222.7L117.1,222.6M117.5,222.0L116.3,221.9M117.6,221.4L116.2,221.3M117.6,220.7L115.4,220.6M117.6,220.1L115.5,219.9M117.2,219.4L118.7,219.5M117.7,218.8L117.5,218.8M117.3,218.1L118.5,218.2M117.4,217.5L118.5,217.6M117.4,216.8L118.7,217.0M117.5,216.2L118.1,216.3M117.5,215.6L119.1,215.7M117.6,214.9L118.2,215.0M117.7,214.3L119.2,214.5M117.8,213.6L120.4,214.0M117.9,213.0L119.9,213.3M118.0,212.4L119.2,212.6M118.0,211.7L123.6,212.6M118.1,211.1L118.4,211.1M118.2,210.5L118.8,210.5M118.3,209.8L118.7,209.9M118.4,209.2L119.9,209.4M118.6,208.6L118.9,208.6M118.7,207.9L119.0,208.0M119.3,207.4L118.7,207.3M118.9,206.7L119.6,206.8M119.0,206.0L120.1,206.2M119.2,205.4L124.7,206.5M119.3,204.8L121.0,205.1M119.4,204.1L121.2,204.5M119.6,203.5L121.8,204.0M119.7,202.9L120.1,203.0M119.9,202.2L121.1,202.5M120.5,201.7L118.6,201.3M120.2,201.0L120.6,201.1M120.3,200.4L121.1,200.6M121.0,199.9L120.2,199.7M121.1,199.3L120.7,199.1M120.8,198.5L121.2,198.6M121.0,197.9L122.2,198.2M121.1,197.3L123.1,197.8M121.3,196.6L122.8,197.1M121.5,196.0L122.9,196.4M121.7,195.4L122.9,195.8M121.9,194.8L123.4,195.3M122.1,194.2L124.5,195.0M122.3,193.6L125.0,194.4M122.5,193.0L123.7,193.4M122.7,192.3L122.9,192.4M123.4,191.9L123.1,191.8M123.1,191.1L123.8,191.4M123.3,190.5L125.5,191.3M123.5,189.9L124.7,190.3M123.7,189.3L124.7,189.6M124.0,188.7L124.4,188.9M124.2,188.1L124.6,188.3M124.4,187.5L124.7,187.6M124.6,186.9L125.0,187.0M124.9,186.3L125.2,186.4M125.1,185.7L125.7,185.9M125.4,185.1L126.5,185.6M125.6,184.5L125.9,184.6M126.3,184.1L126.0,184.0M126.6,183.5L126.2,183.3M126.8,182.9L126.0,182.6M127.1,182.3L125.9,181.8M127.4,181.8L126.1,181.2M127.6,181.2L126.0,180.4M127.9,180.6L126.2,179.8M128.2,180.0L127.3,179.6M128.4,179.4L128.2,179.3M128.7,178.9L128.4,178.7M129.0,178.3L128.5,178.0M128.8,177.5L129.7,177.9M129.1,176.9L130.2,177.4M129.9,176.6L128.9,176.1M130.2,176.0L129.1,175.5M130.0,175.2L130.9,175.7M130.3,174.6L131.1,175.1M131.1,174.3L130.1,173.8M131.0,173.5L132.1,174.1M131.3,172.9L131.6,173.1M131.6,172.4L132.3,172.8M131.9,171.8L132.6,172.2M132.7,171.5L131.3,170.7M133.0,171.0L132.1,170.5M133.3,170.4L133.1,170.3M133.2,169.6L134.6,170.5M133.5,169.1L134.6,169.7M133.9,168.5L135.3,169.4M134.2,168.0L135.5,168.8M134.6,167.4L136.9,168.9M135.3,167.1L134.0,166.3M135.7,166.6L135.4,166.4M136.0,166.1L135.0,165.4M136.4,165.5L135.2,164.7M136.8,165.0L136.3,164.7M137.1,164.5L136.7,164.2M137.1,163.7L137.9,164.2M137.4,163.1L138.2,163.7M137.8,162.6L138.5,163.1M138.2,162.1L138.7,162.5M138.6,161.6L139.4,162.2M139.0,161.0L140.4,162.1M139.3,160.5L140.0,161.0M139.7,160.0L140.6,160.7M140.5,159.8L140.0,159.4M140.9,159.3L140.6,159.1M141.3,158.8L140.5,158.2M141.7,158.3L139.6,156.6M142.1,157.8L141.6,157.4M142.1,157.0L142.7,157.4M142.9,156.8L141.8,155.9M142.9,156.0L144.0,156.9M143.3,155.5L143.6,155.7M144.1,155.3L143.6,154.9M144.6,154.8L143.8,154.2M145.0,154.3L142.2,151.9M145.4,153.9L145.0,153.5M145.8,153.4L145.0,152.7M145.9,152.6L146.3,153.0M146.3,152.1L146.5,152.3M146.8,151.6L147.8,152.6M147.2,151.2L148.5,152.4M147.6,150.7L148.0,151.1M148.4,150.6L147.1,149.2M148.9,150.1L148.7,149.9M149.3,149.6L149.0,149.3M149.8,149.2L149.3,148.7M150.2,148.7L149.4,147.9M150.7,148.3L150.2,147.8M150.8,147.5L151.0,147.6M151.3,147.0L151.7,147.4M152.1,146.9L151.6,146.5M152.2,146.1L152.5,146.4M153.0,146.1L151.9,144.9M153.5,145.6L152.5,144.6M153.9,145.2L153.2,144.4M154.4,144.8L153.7,143.9M154.9,144.3L153.7,143.0M155.4,143.9L154.5,142.9M155.8,143.5L155.4,142.9M156.0,142.7L156.4,143.1M156.5,142.3L156.7,142.5M157.3,142.2L157.1,142.0M157.5,141.4L157.7,141.7M158.0,141.0L158.8,142.0M158.5,140.6L159.4,141.7M159.0,140.2L159.5,140.8M159.5,139.8L160.7,141.4M160.0,139.4L161.1,140.8M160.5,139.0L160.7,139.3M161.0,138.6L161.5,139.3M161.5,138.2L162.0,138.9M162.0,137.8L163.6,139.9M162.5,137.5L163.2,138.3M163.1,137.1L163.8,138.1M163.6,136.7L164.5,138.0M164.4,136.7L164.0,136.1M164.9,136.4L164.6,135.9M165.4,136.0L164.4,134.5M166.0,135.6L165.1,134.4M166.5,135.3L165.1,133.1M166.8,134.5L167.0,134.9M167.3,134.1L167.5,134.5M167.8,133.8L168.6,134.9M168.4,133.4L168.7,133.9M168.9,133.1L169.5,134.1M169.7,133.2L169.4,132.7M170.3,132.8L169.4,131.4M170.8,132.5L170.5,132.0M171.4,132.1L170.8,131.1M171.9,131.8L171.4,131.0M172.2,131.1L172.4,131.4M173.0,131.2L172.5,130.4M173.6,130.8L173.2,130.2M173.9,130.1L174.1,130.5M174.4,129.8L175.4,131.4M175.0,129.5L176.0,131.2M175.6,129.1L176.6,131.1M176.4,129.3L175.9,128.4M176.7,128.5L178.7,132.2M177.5,128.7L177.3,128.3M178.1,128.4L177.6,127.5M178.6,128.1L178.3,127.4M179.0,127.3L179.2,127.9M179.8,127.5L179.2,126.4M180.1,126.8L180.5,127.6M180.9,126.9L179.8,124.5M181.3,126.2L181.8,127.3M181.9,125.9L182.4,127.0M182.7,126.1L182.2,125.0M183.3,125.9L182.6,124.5M183.8,125.6L183.1,123.9M184.4,125.3L184.2,124.7M185.0,125.1L184.3,123.3M185.6,124.8L185.1,123.6M186.0,124.1L186.5,125.2M186.6,123.9L186.8,124.3M187.2,123.6L187.7,124.9M188.0,123.9L187.8,123.4M188.4,123.1L188.7,123.9M189.2,123.4L189.0,122.9M189.8,123.2L189.3,121.9M190.4,122.9L190.1,122.1M191.0,122.7L190.5,121.5M191.6,122.5L191.0,121.0M192.2,122.3L191.8,121.3M192.8,122.1L192.5,121.3M193.2,121.4L193.9,123.5M193.8,121.2L194.2,122.2M194.5,121.0L194.7,121.8M195.1,120.8L195.2,121.3M195.8,121.1L195.4,119.6M196.4,120.9L196.0,119.4M197.1,120.7L196.9,120.1M197.5,120.0L197.7,120.5M198.3,120.3L197.4,117.3M198.9,120.1L198.7,119.4M199.4,119.5L199.5,119.9M200.1,119.8L199.8,118.7M200.6,119.1L200.9,120.3M201.2,119.0L201.5,119.8M202.0,119.3L201.9,119.0M202.5,118.7L202.6,119.3M203.1,118.5L203.4,119.8M203.9,118.8L203.8,118.5M204.5,118.7L204.4,118.2M205.0,118.1L205.1,118.4M205.6,117.9L205.9,119.0M206.3,117.8L206.4,118.2M206.9,117.7L207.3,119.8M207.5,117.5L207.9,119.2M208.2,117.4L208.6,119.5M208.8,117.3L208.9,117.6M209.4,117.2L209.6,118.3M210.1,117.1L210.1,117.5M210.8,117.4L210.6,116.3M211.3,116.8L211.4,117.5M212.0,116.7L212.1,117.8M212.7,117.1L212.6,116.7M213.2,116.5L213.3,117.0M213.9,116.5L214.0,117.5M214.5,116.4L214.6,116.7M215.1,116.3L215.3,117.6M215.8,116.7L215.8,116.4M216.4,116.1L216.5,116.9M217.1,116.0L217.2,116.9M217.8,116.5L217.7,115.9M218.3,115.9L218.5,117.4M219.0,115.9L219.1,116.5M219.6,115.8L219.7,116.3M220.3,115.7L220.3,116.5M220.9,115.7L221.0,116.4M221.6,116.1L221.5,115.2M222.2,116.1L222.2,115.5M222.8,115.6L222.9,116.4M223.5,116.0L223.5,115.3M224.2,116.0L224.1,114.8M224.8,116.0L224.8,115.7M225.4,115.4L225.5,117.2M226.1,115.4L226.1,117.5M226.7,115.4L226.7,116.5M227.4,115.9L227.3,115.3M228.0,115.9L228.0,115.3M228.6,115.9L228.6,115.4M229.3,115.9L229.3,114.3" stroke="#000" stroke-width="0.8" fill="none"/>
<path d="M236.6,130.5L236.5,131.6M237.1,130.5L236.8,134.5M237.7,130.6L237.5,133.2M238.3,130.6L238.1,132.6M239.4,130.7L239.2,132.6M239.9,130.8L239.8,132.0M240.5,130.9L240.2,133.5M241.0,130.9L241.0,131.5M241.6,131.0L241.4,132.7M242.1,131.1L241.8,133.4M242.7,131.1L242.3,134.2M243.2,131.2L242.8,134.4M243.8,131.3L243.6,132.8M245.5,131.5L245.3,132.7M246.0,131.6L245.9,132.6M246.6,131.7L246.1,134.6M247.1,131.8L247.0,132.4M247.7,131.9L246.8,136.3M248.2,132.0L247.9,133.4M248.8,132.1L248.5,133.4M249.3,132.3L249.2,133.0M249.9,132.4L249.7,133.3M250.9,132.6L250.6,134.0M251.5,132.7L251.3,133.6M252.0,132.9L251.8,133.7M253.1,133.1L252.7,135.0M253.7,133.3L253.2,135.2M254.2,133.4L253.7,135.3M254.7,133.5L254.0,136.5M255.3,133.7L254.7,135.8M255.8,133.8L255.0,136.9M256.4,134.0L255.6,136.5M256.9,134.1L256.5,135.7M257.4,134.3L257.2,135.2M258.0,134.5L257.8,135.0M258.5,134.6L258.2,135.6M259.0,134.8L258.9,135.4M259.6,135.0L259.3,135.6M260.1,135.1L259.9,135.7M260.6,135.3L260.3,136.2M261.2,135.5L260.3,138.0M261.7,135.7L260.6,138.8M262.2,135.8L261.8,137.2M262.7,136.0L262.1,137.8M263.3,136.2L263.1,136.8M263.8,136.4L262.3,140.4M264.3,136.6L263.7,138.2M264.8,136.8L264.6,137.4M265.4,137.0L264.1,140.2M265.9,137.2L265.4,138.4M266.4,137.4L264.8,141.4M266.9,137.6L266.5,138.6M267.4,137.9L267.2,138.4M267.9,138.1L267.7,138.6M268.5,138.3L268.2,138.9M269.5,138.7L268.4,141.1M270.0,139.0L268.7,141.9M270.5,139.2L269.9,140.4M271.0,139.4L270.4,140.7M271.5,139.7L270.9,141.0M272.0,139.9L271.6,140.9M272.5,140.2L271.7,141.8M273.0,140.4L272.1,142.2M273.5,140.7L273.0,141.7M274.0,140.9L273.5,141.9M274.5,141.2L274.2,141.7M275.0,141.4L274.7,142.0M275.5,141.7L274.7,143.2M276.0,142.0L273.8,146.1M276.5,142.2L276.2,142.8M277.5,142.8L277.2,143.3M278.0,143.0L277.7,143.6M278.4,143.3L278.1,143.9M279.4,143.9L277.6,146.9M279.9,144.2L278.3,146.8M280.4,144.5L279.2,146.4M280.8,144.7L279.2,147.5M281.3,145.0L280.0,147.2M281.8,145.3L279.4,149.1M282.3,145.6L280.9,147.8M282.7,145.9L281.8,147.3M283.2,146.2L282.4,147.4M283.7,146.5L283.3,147.0M284.1,146.9L283.8,147.4M285.1,147.5L284.4,148.4M285.5,147.8L285.2,148.3M286.0,148.1L285.1,149.4M286.4,148.4L285.8,149.4M286.9,148.8L286.5,149.3M287.8,149.4L287.1,150.3M288.2,149.8L287.0,151.4M288.7,150.1L288.3,150.6M289.1,150.4L288.4,151.4M289.6,150.8L287.8,153.1M290.0,151.1L289.6,151.6M290.5,151.5L290.1,151.9M290.9,151.8L290.3,152.5M291.3,152.2L289.9,153.9M291.8,152.5L290.3,154.3M292.2,152.9L291.2,154.0M292.6,153.2L291.3,154.9M293.0,153.6L292.7,154.1M293.5,154.0L293.1,154.4M293.9,154.3L293.5,154.8M294.3,154.7L293.9,155.2M295.1,155.4L294.3,156.4M296.4,156.6L296.0,157.0M298.8,158.9L298.3,159.4M299.6,159.7L298.7,160.5M300.0,160.1L298.0,162.0M300.4,160.5L297.8,163.0M300.7,160.9L299.1,162.5M301.1,161.3L299.6,162.8M301.5,161.7L301.1,162.1M301.9,162.1L300.2,163.7M302.3,162.6L300.4,164.2M302.6,163.0L301.3,164.1M303.0,163.4L302.5,163.8M303.4,163.8L302.9,164.3M303.7,164.2L303.3,164.6M304.1,164.7L302.8,165.7M304.5,165.1L301.6,167.5M304.8,165.5L302.8,167.2M305.2,165.9L303.9,167.0M305.5,166.4L304.6,167.1M305.9,166.8L304.7,167.7M306.2,167.2L305.8,167.6M306.6,167.7L304.8,169.0M306.9,168.1L304.0,170.4M307.3,168.6L305.0,170.3M307.6,169.0L307.1,169.4M307.9,169.5L307.1,170.1M308.6,170.4L308.1,170.7M308.9,170.8L308.2,171.3M309.3,171.3L308.8,171.6M309.9,172.2L308.1,173.4M310.2,172.6L309.2,173.3M310.5,173.1L308.5,174.5M310.8,173.6L309.7,174.3M311.2,174.0L310.3,174.6M311.5,174.5L310.1,175.4M311.8,175.0L310.0,176.1M312.1,175.4L311.6,175.8M312.4,175.9L311.1,176.7M312.7,176.4L311.9,176.9M313.0,176.9L311.9,177.5M313.2,177.3L311.5,178.4M313.5,177.8L313.0,178.1M314.1,178.8L311.0,180.6M314.4,179.3L311.4,181.0M314.7,179.7L313.3,180.5M314.9,180.2L314.1,180.7M315.2,180.7L313.9,181.4M315.5,181.2L314.6,181.7M315.7,181.7L315.2,182.0M316.0,182.2L315.4,182.5M316.3,182.7L315.3,183.2M316.5,183.2L313.8,184.6M316.8,183.7L314.2,185.0M317.0,184.2L315.6,184.9M317.3,184.7L316.0,185.3M317.5,185.2L314.4,186.7M317.8,185.7L316.3,186.4M318.5,187.2L317.9,187.4M318.7,187.7L317.7,188.2M319.0,188.2L317.4,188.9M319.2,188.7L318.6,189.0M319.4,189.2L318.0,189.8M319.6,189.8L318.9,190.1M319.8,190.3L319.2,190.5M320.5,191.8L319.1,192.4M320.7,192.3L317.3,193.7M320.9,192.9L319.6,193.4M321.1,193.4L319.0,194.2M321.3,193.9L320.2,194.3M321.7,195.0L320.5,195.4M321.9,195.5L318.8,196.6M322.2,196.5L321.6,196.8M322.7,198.1L322.2,198.3M323.1,199.2L322.4,199.4M323.4,200.3L322.7,200.5M323.6,200.8L321.4,201.4M323.7,201.3L321.5,202.0M323.9,201.9L322.7,202.2M324.0,202.4L323.4,202.6M324.2,203.0L323.6,203.1M324.3,203.5L319.7,204.7M324.4,204.0L322.7,204.5M324.7,205.1L320.3,206.2M324.8,205.7L323.1,206.1M325.0,206.2L323.6,206.5M325.1,206.8L324.1,207.0M325.2,207.3L323.7,207.6M325.3,207.8L324.0,208.1M325.4,208.4L324.7,208.5M325.7,209.5L325.1,209.6M325.8,210.0L325.2,210.2M325.9,210.6L325.3,210.7M326.0,211.1L325.4,211.2M326.2,212.2L325.5,212.4M326.4,213.9L325.5,214.0M326.5,214.5L325.0,214.7M326.7,216.1L325.2,216.3M326.8,216.7L324.5,216.9M326.8,217.2L324.3,217.5M326.9,217.8L325.3,218.0M327.0,218.3L324.1,218.6M327.0,218.9L323.7,219.2M327.1,219.4L326.5,219.5M327.2,220.6L325.1,220.7M327.2,221.1L325.1,221.3M327.2,221.7L323.4,221.9M327.3,222.2L326.2,222.3M327.3,222.8L323.7,223.0M327.3,223.4L326.7,223.4M327.4,223.9L325.3,224.0M327.4,225.0L325.6,225.1M327.4,225.6L325.9,225.6M327.4,226.1L325.3,226.2M327.4,226.7L325.8,226.7M327.4,227.3L325.4,227.3M327.4,227.8L326.8,227.8M327.4,228.4L323.2,228.4M327.4,228.9L323.8,228.9M327.4,229.5L323.5,229.4M327.4,230.1L325.1,230.0M327.4,231.7L326.8,231.7M327.3,232.8L326.7,232.8M327.3,233.4L326.1,233.3M327.3,234.0L323.9,233.8M327.2,234.5L324.7,234.4M327.2,235.1L326.0,235.0M327.2,235.6L326.1,235.6M327.1,236.2L325.8,236.1M327.1,236.8L323.4,236.4M327.0,237.3L324.7,237.1M327.0,237.9L324.8,237.6M326.9,238.4L325.0,238.2M326.8,239.0L326.2,238.9M326.8,239.5L324.0,239.2M326.7,240.1L324.6,239.8M326.6,240.6L325.2,240.4M326.6,241.2L325.4,241.0M326.5,241.7L325.6,241.6M326.4,242.3L324.2,242.0M326.3,242.9L325.2,242.7M326.2,243.4L322.3,242.8M326.1,244.5L323.7,244.1M326.0,245.1L322.9,244.5M325.9,245.6L324.7,245.4M325.8,246.2L323.6,245.8M325.7,246.7L323.5,246.3M325.6,247.3L321.3,246.4M325.4,247.8L323.2,247.3M325.3,248.4L323.1,247.9M325.2,248.9L322.4,248.3M325.1,249.4L323.0,249.0M325.0,250.0L323.5,249.7M324.8,250.5L323.5,250.2M324.7,251.1L324.1,250.9M324.6,251.6L324.0,251.5M324.4,252.2L322.5,251.7M324.3,252.7L323.7,252.6M324.0,253.8L322.7,253.4M323.9,254.3L323.2,254.1M323.7,254.9L319.7,253.7M323.6,255.4L322.8,255.2M323.1,257.0L321.3,256.4M322.9,257.5L322.0,257.2M322.7,258.1L322.2,257.9M322.4,259.1L321.8,258.9M322.2,259.7L321.7,259.5M322.0,260.2L320.3,259.6M321.9,260.7L320.0,260.1M321.5,261.8L320.3,261.3M321.3,262.3L320.3,261.9M321.1,262.8L318.4,261.8M320.9,263.3L318.4,262.4M320.7,263.9L319.0,263.2M320.5,264.4L319.9,264.2M320.3,264.9L319.7,264.7M320.1,265.4L318.3,264.7M319.8,265.9L316.9,264.7M319.6,266.4L317.1,265.4M319.4,267.0L317.3,266.1M319.2,267.5L316.9,266.5M319.0,268.0L317.7,267.4M318.7,268.5L318.1,268.2M318.0,270.0L317.2,269.6M317.8,270.5L317.2,270.3M317.5,271.0L317.0,270.8M317.3,271.5L316.0,270.9M317.0,272.0L316.4,271.7M316.8,272.5L314.5,271.4M316.5,273.0L315.5,272.5M316.3,273.5L315.1,272.9M315.7,274.5L313.5,273.3M315.5,275.0L313.9,274.1M315.2,275.5L313.0,274.3M314.9,276.0L312.8,274.8M314.7,276.5L313.2,275.6M314.4,276.9L312.5,275.9M314.1,277.4L311.4,275.9M313.8,277.9L312.1,276.9M313.5,278.4L310.5,276.5M313.2,278.9L311.0,277.5M313.0,279.3L312.0,278.7M312.7,279.8L310.4,278.4M312.4,280.3L309.4,278.4M311.8,281.2L310.9,280.7M311.5,281.7L310.2,280.9M311.2,282.2L310.5,281.7M310.8,282.6L309.3,281.6M310.5,283.1L310.0,282.8M310.2,283.6L309.3,282.9M309.9,284.0L309.3,283.6M309.3,284.9L308.0,284.1M308.9,285.4L307.0,284.0M308.6,285.8L306.5,284.3M307.9,286.7L306.8,285.9M307.6,287.2L307.0,286.7M306.9,288.1L306.1,287.5M306.6,288.5L305.6,287.7M306.2,289.0L305.1,288.1M305.5,289.8L303.8,288.4M305.2,290.3L303.2,288.6M304.8,290.7L303.5,289.6M304.5,291.1L304.0,290.7M304.1,291.5L303.6,291.2M303.0,292.8L302.2,292.1M302.6,293.2L301.5,292.2M302.3,293.6L301.6,293.1M301.9,294.1L298.7,291.1M301.5,294.5L299.6,292.7M301.1,294.9L300.1,293.9M300.7,295.3L299.3,293.9M300.4,295.7L299.9,295.3M300.0,296.1L299.4,295.6M299.6,296.5L297.9,294.9M299.2,296.9L298.8,296.5M298.8,297.3L298.2,296.7M298.4,297.7L297.4,296.7M298.0,298.1L297.6,297.6M297.6,298.5L296.9,297.8M297.2,298.9L296.3,297.9M296.8,299.2L296.4,298.8M296.4,299.6L295.1,298.3M296.0,300.0L294.8,298.7M295.6,300.4L295.2,299.9M295.1,300.8L294.7,300.3M294.7,301.1L294.3,300.7M294.3,301.5L292.6,299.6M293.5,302.2L292.7,301.4M293.0,302.6L291.6,300.9M292.2,303.3L291.4,302.3M291.8,303.7L291.0,302.7M291.3,304.0L290.3,302.8M290.9,304.4L289.6,302.8M290.5,304.7L289.3,303.2M290.0,305.1L289.6,304.6M289.6,305.4L289.2,304.9M288.7,306.1L288.2,305.4M288.2,306.4L287.5,305.5M287.8,306.8L287.3,306.1M286.9,307.4L286.2,306.5M286.4,307.8L285.9,307.0M286.0,308.1L285.3,307.1M285.1,308.7L284.7,308.2M284.1,309.3L283.5,308.4M283.7,309.7L281.6,306.5M283.2,310.0L281.5,307.3M282.7,310.3L281.8,308.8M282.3,310.6L281.9,310.1M281.3,311.2L280.9,310.4M280.8,311.5L278.9,308.3M280.4,311.7L277.9,307.7M279.9,312.0L279.4,311.3M279.4,312.3L279.0,311.6M278.9,312.6L277.9,310.9M278.4,312.9L277.5,311.2M278.0,313.2L277.3,312.1M277.5,313.4L277.2,312.9M277.0,313.7L276.7,313.2M276.5,314.0L276.2,313.5M276.0,314.2L274.5,311.5M275.5,314.5L274.5,312.6M275.0,314.8L274.3,313.5M274.0,315.3L272.8,312.8M273.5,315.5L273.0,314.5M273.0,315.8L272.0,313.8M272.5,316.0L271.5,313.9M272.0,316.3L270.5,313.2M271.5,316.5L270.8,315.1M271.0,316.8L270.5,315.7M270.0,317.2L269.7,316.7M269.0,317.7L268.4,316.5M268.5,317.9L268.0,316.9M267.9,318.1L267.7,317.6M267.4,318.3L266.5,316.2M266.9,318.6L266.3,317.0M266.4,318.8L265.9,317.5M265.9,319.0L265.2,317.4M265.4,319.2L264.9,318.1M264.8,319.4L263.9,317.0M264.3,319.6L263.8,318.3M263.8,319.8L263.4,318.7M263.3,320.0L263.0,319.2M262.7,320.2L261.9,317.9M262.2,320.4L261.7,319.0M261.7,320.5L261.5,320.0M261.2,320.7L260.9,319.8M260.6,320.9L260.2,319.7M260.1,321.1L259.6,319.5M259.6,321.2L258.6,318.3M259.0,321.4L257.8,317.6M258.0,321.7L257.6,320.4M257.4,321.9L256.8,319.8M256.9,322.1L256.4,320.4M256.4,322.2L255.8,320.1M255.8,322.4L255.2,320.0M254.7,322.7L254.4,321.5M254.2,322.8L253.8,321.2M253.7,322.9L253.4,321.8M253.1,323.1L252.7,321.5M252.6,323.2L252.2,321.5M252.0,323.3L251.5,321.1M251.5,323.5L250.7,320.1M250.9,323.6L250.4,321.2M250.4,323.7L249.8,321.1M249.9,323.8L249.1,320.4M249.3,323.9L248.6,320.5M248.8,324.1L248.5,322.7M248.2,324.2L247.3,319.5M247.7,324.3L247.3,322.2M247.1,324.4L246.9,323.3M246.6,324.5L246.5,323.9M246.0,324.6L245.8,323.6M245.5,324.7L245.4,324.0M244.9,324.7L244.5,322.3M244.4,324.8L243.7,320.8M243.8,324.9L243.3,321.3M243.2,325.0L242.7,321.3M242.7,325.1L242.4,323.0M241.0,325.3L240.9,324.4M240.5,325.3L240.4,324.7M239.9,325.4L239.6,322.0M239.4,325.5L238.9,321.3M238.8,325.5L238.4,321.2M238.3,325.6L238.0,322.7M237.7,325.6L237.6,324.5M237.1,325.7L237.0,324.4M236.6,325.7L236.4,323.2M236.0,325.7L235.9,324.3M235.5,325.8L235.4,325.2M233.8,325.9L233.7,324.5M233.2,325.9L233.2,323.8M232.1,325.9L232.1,323.8M231.6,325.9L231.5,323.3M226.5,325.9L226.6,325.1M224.9,325.8L224.9,324.1M220.4,325.5L220.5,324.9M219.3,325.4L219.4,324.7M218.7,325.3L218.9,324.1M216.5,325.1L216.6,324.4M212.6,324.5L212.7,323.9M212.1,324.4L212.3,323.3M209.9,323.9L210.3,321.9M209.3,323.8L209.6,322.8M208.8,323.7L209.1,322.4M208.3,323.6L208.9,320.6M207.7,323.5L208.1,321.9M200.2,321.4L200.6,319.9M197.5,320.5L197.8,319.8M192.8,318.8L193.1,318.0M192.3,318.6L193.0,316.8M191.8,318.3L192.1,317.5M191.3,318.1L191.6,317.4M188.2,316.8L188.5,316.2M175.1,309.3L175.5,308.8M170.5,306.1L171.1,305.3M154.7,291.1L156.1,290.0M148.0,282.2L148.8,281.7M146.8,280.3L147.6,279.8M142.9,273.5L143.9,273.0M142.2,272.0L142.9,271.7M138.1,262.8L139.8,262.2M137.7,261.8L138.3,261.6M137.2,260.2L137.8,260.0M136.6,258.6L137.2,258.4M136.3,257.5L137.7,257.1M136.1,257.0L136.7,256.8M135.8,255.9L136.9,255.6M135.6,255.4L137.5,254.9M135.2,253.8L136.5,253.4M134.6,251.6L135.8,251.3M133.8,247.8L135.7,247.4M133.2,245.1L134.9,244.8M131.8,231.7L133.8,231.7M132.0,220.6L132.7,220.6M132.7,214.5L133.4,214.6M134.0,207.3L134.7,207.5M134.1,206.8L134.7,206.9M136.0,199.7L138.4,200.5M141.4,185.7L142.1,186.0M141.7,185.2L142.3,185.5M142.7,183.2L143.7,183.7M145.7,177.8L146.3,178.2M146.0,177.3L147.8,178.5M148.7,173.1L149.6,173.7M149.9,171.3L150.8,171.8M150.3,170.8L151.4,171.6M154.7,165.1L155.5,165.7M160.4,158.9L161.2,159.7M168.3,151.8L168.9,152.5M177.9,145.0L178.7,146.4M179.3,144.2L179.6,144.7M183.7,141.7L184.1,142.4M196.5,136.0L197.0,137.5M203.9,133.7L204.4,135.5M204.5,133.5L204.9,135.3M211.0,132.0L211.3,133.9M217.6,131.0L217.7,131.8M222.6,130.5L222.7,131.2M223.2,130.5L223.2,131.4M226.5,130.3L226.6,131.6M227.1,130.3L227.1,131.6M228.2,130.3L228.2,131.2" stroke="#1fb41f" stroke-width="0.8" fill="none"/><path d="M229.9,130.8L229.9,127.7M230.4,130.8L230.5,127.8M231.0,130.8L231.0,129.5M231.5,130.8L231.6,129.9M232.1,130.8L232.1,129.5M232.7,130.8L232.7,129.1M233.2,130.8L233.3,128.5M233.8,130.8L233.8,129.2M234.3,130.9L234.4,129.6M234.9,130.9L234.9,130.3M235.4,130.9L235.6,128.0M236.0,131.0L236.0,130.4M238.8,131.2L238.9,130.2M244.3,131.9L244.5,130.2M244.8,131.9L244.9,131.3M250.3,133.0L250.6,131.5M252.5,133.5L252.8,132.0M268.8,139.0L269.5,137.3M276.7,142.9L277.1,142.2M278.7,144.0L279.8,142.1M284.3,147.6L284.8,146.8M287.0,149.5L287.4,149.0M294.4,155.4L295.4,154.4M295.2,156.2L295.6,155.7M295.6,156.6L296.4,155.7M296.4,157.3L297.5,156.2M296.8,157.7L298.4,156.1M297.2,158.1L298.0,157.3M297.6,158.5L298.6,157.6M298.0,158.9L298.5,158.4M298.8,159.7L300.4,158.1M307.9,170.2L310.1,168.6M309.2,172.0L309.9,171.5M313.4,178.5L314.3,178.0M317.6,186.4L318.2,186.1M317.8,186.9L319.8,186.0M319.6,191.0L320.5,190.6M319.8,191.5L320.5,191.2M321.0,194.6L322.7,194.0M321.6,196.2L322.9,195.7M321.9,197.2L323.1,196.8M322.1,197.8L323.5,197.3M322.4,198.8L324.9,198.0M322.8,199.9L324.3,199.4M324.1,204.7L325.3,204.4M325.1,209.0L326.0,208.9M325.6,211.8L327.1,211.5M325.8,212.9L328.2,212.5M325.8,213.4L329.0,212.9M326.1,215.1L328.1,214.8M326.1,215.6L329.0,215.3M326.6,220.0L327.3,220.0M326.9,224.5L327.9,224.4M326.9,230.6L327.9,230.6M326.9,231.2L329.2,231.2M326.9,232.3L327.6,232.3M325.7,243.9L327.5,244.2M323.7,253.1L325.9,253.7M322.9,255.8L325.7,256.6M322.8,256.3L324.4,256.8M322.1,258.4L323.0,258.7M321.2,261.1L322.3,261.5M318.0,268.8L318.9,269.2M317.8,269.3L319.6,270.1M315.6,273.8L316.4,274.2M311.6,280.5L312.6,281.1M309.2,284.2L310.6,285.2M307.9,286.0L309.5,287.2M306.9,287.3L308.5,288.6M305.5,289.1L306.4,289.8M303.4,291.6L304.0,292.2M303.0,292.1L303.9,292.9M293.6,301.5L294.4,302.4M292.3,302.6L293.3,303.8M288.8,305.4L289.4,306.1M287.0,306.7L287.4,307.2M285.2,308.0L286.1,309.3M284.3,308.6L284.7,309.2M281.5,310.4L282.1,311.3M274.3,314.6L274.6,315.2M270.3,316.5L271.4,319.0M269.3,317.0L269.9,318.5M258.4,321.1L258.8,322.5M255.2,322.0L255.3,322.7M242.1,324.6L242.2,325.7M241.5,324.7L241.8,326.6M234.9,325.3L234.9,326.1M234.3,325.3L234.4,327.7M232.7,325.4L232.7,326.1M231.0,325.4L231.0,326.0M230.4,325.4L230.4,326.5M229.9,325.4L229.9,326.0M229.3,325.4L229.3,326.0M228.8,325.4L228.8,326.1M228.2,325.4L228.2,326.8M227.7,325.4L227.6,327.8M227.1,325.4L227.0,328.1M226.0,325.4L226.0,326.0M225.4,325.4L225.4,326.0M224.3,325.3L224.2,327.4M223.8,325.3L223.7,325.9M223.2,325.2L223.1,327.3M222.7,325.2L222.5,327.4M222.1,325.2L222.0,326.2M221.5,325.1L221.3,327.7M221.0,325.1L220.8,327.4M219.9,325.0L219.8,325.8M218.2,324.8L218.1,326.1M217.7,324.7L217.5,326.0M217.1,324.6L216.9,326.4M216.0,324.5L215.9,325.1M215.5,324.4L215.3,325.6M214.9,324.3L214.7,325.6M214.4,324.3L214.2,325.6M213.8,324.2L213.7,324.8M213.3,324.1L213.2,324.7M211.6,323.8L211.5,324.4M211.1,323.7L210.9,324.6M210.5,323.6L210.4,324.2M207.3,322.9L207.1,323.6M206.7,322.7L206.3,324.6M206.2,322.6L205.8,324.3M205.7,322.5L205.1,324.6M205.1,322.3L204.9,323.0M204.6,322.2L203.9,324.8M204.0,322.0L203.0,325.9M203.5,321.9L202.8,324.3M203.0,321.7L202.6,322.9M202.4,321.6L202.3,322.2M201.9,321.4L201.1,324.3M201.4,321.3L201.2,321.8M200.8,321.1L200.4,322.7M199.8,320.8L199.6,321.5M199.3,320.6L199.0,321.3M198.7,320.4L197.7,323.4M198.2,320.2L198.0,320.8M197.1,319.9L196.7,321.0M196.6,319.7L196.3,320.6M196.1,319.5L195.4,321.4M195.6,319.3L194.6,322.0M195.1,319.1L194.5,320.6M194.5,318.9L194.0,320.3M194.0,318.7L193.8,319.3M193.5,318.5L193.1,319.6M190.9,317.4L190.6,318.3M190.4,317.2L189.3,319.8M189.9,317.0L189.0,319.2M189.4,316.8L188.8,318.1M188.9,316.5L188.2,318.1M187.9,316.1L187.5,316.9M187.4,315.8L186.0,318.6M186.9,315.6L186.6,316.1M186.4,315.3L185.3,317.5M185.9,315.1L185.6,315.6M185.4,314.8L185.1,315.4M184.9,314.6L184.2,316.0M184.4,314.3L184.0,315.1M183.9,314.1L183.3,315.3M183.4,313.8L182.3,315.9M182.9,313.5L182.5,314.4M182.5,313.3L181.5,315.1M182.0,313.0L181.0,314.8M181.5,312.7L181.2,313.3M181.0,312.5L179.8,314.6M180.5,312.2L179.2,314.4M180.0,311.9L178.3,314.8M179.6,311.6L179.3,312.1M179.1,311.3L178.1,313.0M178.6,311.0L178.1,311.9M178.1,310.7L177.3,312.0M177.7,310.4L176.6,312.1M177.2,310.1L176.1,311.9M176.7,309.8L176.1,310.8M176.3,309.5L175.2,311.1M175.8,309.2L175.5,309.7M174.9,308.6L173.9,310.0M174.4,308.3L174.1,308.8M174.0,308.0L173.5,308.6M173.5,307.7L173.0,308.4M173.1,307.3L172.4,308.3M172.6,307.0L172.2,307.6M172.2,306.7L171.6,307.4M171.7,306.4L170.9,307.4M171.3,306.0L170.7,306.8M170.4,305.4L169.6,306.3M169.9,305.0L169.0,306.2M169.5,304.7L169.1,305.2M169.1,304.3L166.6,307.5M168.6,304.0L166.8,306.2M168.2,303.6L167.0,305.1M167.8,303.3L166.7,304.6M167.3,302.9L165.5,305.1M166.9,302.6L165.3,304.5M166.5,302.2L165.1,303.8M166.1,301.9L165.7,302.3M165.6,301.5L163.3,304.2M165.2,301.1L164.6,301.9M164.8,300.8L164.4,301.2M164.4,300.4L163.3,301.6M164.0,300.0L162.0,302.2M163.6,299.6L162.6,300.7M163.2,299.3L162.8,299.7M162.8,298.9L162.1,299.5M162.4,298.5L160.7,300.2M162.0,298.1L160.7,299.4M161.6,297.7L160.1,299.2M161.2,297.3L159.4,299.1M160.8,296.9L157.6,300.1M160.4,296.5L159.7,297.2M160.0,296.1L158.6,297.5M159.6,295.7L158.6,296.7M159.2,295.3L158.4,296.1M158.8,294.9L157.6,296.1M158.4,294.5L157.0,295.9M158.1,294.1L155.3,296.7M157.7,293.7L154.2,296.9M157.3,293.3L155.2,295.2M156.9,292.9L155.7,294.0M156.6,292.5L154.7,294.2M156.2,292.1L155.8,292.5M155.8,291.6L155.0,292.4M155.5,291.2L154.7,291.9M154.8,290.4L153.2,291.6M154.4,289.9L153.3,290.9M154.1,289.5L153.6,289.9M153.7,289.1L153.2,289.5M153.4,288.6L152.6,289.3M153.0,288.2L150.7,290.0M152.7,287.8L151.0,289.1M152.3,287.3L151.9,287.7M152.0,286.9L150.7,287.9M151.7,286.4L148.5,288.8M151.3,286.0L147.5,288.8M151.0,285.5L149.0,287.0M150.7,285.1L150.2,285.4M150.4,284.6L149.7,285.1M150.0,284.2L149.2,284.8M149.7,283.7L149.1,284.2M149.4,283.3L148.3,284.0M149.1,282.8L147.0,284.3M148.8,282.4L147.8,283.0M148.2,281.4L146.9,282.2M147.9,281.0L147.1,281.4M147.6,280.5L146.3,281.3M147.0,279.6L146.4,279.9M146.7,279.1L145.5,279.8M146.4,278.6L145.0,279.4M146.1,278.1L144.4,279.1M145.8,277.7L141.7,280.1M145.5,277.2L143.8,278.2M145.2,276.7L143.7,277.6M145.0,276.2L140.9,278.5M144.7,275.7L143.4,276.5M144.4,275.2L143.3,275.8M144.2,274.8L142.8,275.5M143.9,274.3L142.5,275.0M143.6,273.8L142.6,274.3M143.1,272.8L142.3,273.2M142.9,272.3L142.3,272.6M142.4,271.3L139.4,272.8M142.1,270.8L140.1,271.8M141.9,270.3L140.7,270.9M141.6,269.8L140.6,270.3M141.4,269.3L139.1,270.4M141.2,268.8L139.1,269.7M140.9,268.3L139.1,269.1M140.7,267.8L137.9,269.0M140.5,267.3L138.1,268.3M140.3,266.8L137.5,267.9M140.0,266.3L136.4,267.8M139.8,265.7L137.6,266.7M139.6,265.2L138.0,265.9M139.4,264.7L136.6,265.9M139.2,264.2L138.5,264.5M139.0,263.7L138.4,263.9M138.8,263.2L138.2,263.4M138.4,262.1L137.8,262.3M138.0,261.1L136.6,261.6M137.8,260.6L136.2,261.1M137.5,259.5L136.9,259.7M137.3,259.0L134.3,260.0M136.9,257.9L136.4,258.1M136.4,256.3L135.9,256.5M136.0,254.7L135.2,254.9M135.8,254.2L134.2,254.6M135.5,253.1L132.5,253.9M135.4,252.6L134.8,252.7M135.2,252.0L134.3,252.3M135.0,251.0L131.7,251.8M134.8,250.4L130.3,251.5M134.7,249.9L134.1,250.0M134.6,249.3L133.8,249.5M134.5,248.8L133.4,249.0M134.4,248.2L133.0,248.5M134.1,247.2L132.9,247.4M134.0,246.6L133.2,246.8M133.9,246.1L133.0,246.2M133.8,245.5L133.1,245.6M133.6,244.4L132.2,244.7M133.5,243.9L131.2,244.3M133.4,243.3L130.7,243.8M133.4,242.8L132.8,242.9M133.3,242.2L131.3,242.5M133.2,241.7L132.6,241.8M133.1,241.1L131.9,241.3M133.1,240.6L132.5,240.7M133.0,240.0L131.9,240.2M132.9,239.5L132.3,239.6M132.9,238.9L131.8,239.0M132.8,238.4L130.5,238.6M132.7,237.8L130.1,238.1M132.7,237.3L131.3,237.4M132.6,236.7L131.6,236.8M132.6,236.2L131.3,236.3M132.5,235.6L130.0,235.8M132.5,235.0L129.1,235.3M132.5,234.5L129.8,234.7M132.4,233.9L131.8,234.0M132.4,233.4L130.0,233.5M132.4,232.8L130.7,232.9M132.3,232.3L131.7,232.3M132.3,231.2L131.7,231.2M132.3,230.6L131.2,230.6M132.3,230.0L131.7,230.1M132.3,229.5L131.7,229.5M132.3,228.9L131.7,228.9M132.3,228.4L129.9,228.4M132.3,227.8L129.1,227.8M132.3,227.3L130.6,227.3M132.3,226.7L129.3,226.7M132.3,226.2L131.6,226.1M132.3,225.6L131.7,225.6M132.3,225.0L131.4,225.0M132.3,224.5L131.7,224.5M132.3,223.9L131.2,223.9M132.4,223.4L131.8,223.3M132.4,222.8L130.7,222.7M132.4,222.3L131.8,222.2M132.5,221.7L131.6,221.7M132.5,221.2L130.4,221.0M132.6,220.0L130.2,219.9M132.6,219.5L131.2,219.4M132.7,218.9L131.3,218.8M132.7,218.4L131.7,218.3M132.8,217.8L129.5,217.5M132.9,217.3L130.9,217.1M132.9,216.7L131.6,216.6M133.0,216.2L131.2,215.9M133.1,215.6L132.3,215.5M133.1,215.1L132.5,215.0M133.3,214.0L130.2,213.5M133.4,213.4L131.7,213.2M133.4,212.9L132.8,212.8M133.5,212.3L132.8,212.2M133.6,211.8L132.7,211.6M133.7,211.2L133.1,211.1M133.8,210.7L132.4,210.4M133.9,210.1L132.7,209.9M134.0,209.6L133.4,209.5M134.1,209.0L132.9,208.8M134.2,208.5L133.7,208.4M134.4,208.0L133.8,207.8M134.7,206.3L134.1,206.2M134.8,205.8L133.4,205.4M135.0,205.2L134.4,205.1M135.1,204.7L134.5,204.6M135.2,204.2L134.1,203.9M135.4,203.6L133.1,203.0M135.5,203.1L132.6,202.3M135.7,202.5L132.4,201.7M135.8,202.0L133.8,201.4M136.0,201.5L134.2,201.0M136.1,200.9L134.5,200.5M136.3,200.4L134.5,199.9M136.6,199.3L135.1,198.9M136.8,198.8L135.4,198.4M136.9,198.3L135.6,197.8M137.1,197.8L134.0,196.7M137.3,197.2L136.0,196.8M137.5,196.7L136.8,196.5M137.6,196.2L136.0,195.6M137.8,195.6L136.7,195.3M138.0,195.1L137.0,194.8M138.2,194.6L136.8,194.1M138.4,194.1L137.2,193.6M138.6,193.6L137.4,193.1M138.8,193.0L136.1,192.0M139.0,192.5L137.7,192.0M139.2,192.0L138.6,191.8M139.4,191.5L138.4,191.1M139.6,191.0L139.1,190.7M139.8,190.5L139.3,190.2M140.0,189.9L139.2,189.6M140.3,189.4L139.3,189.0M140.5,188.9L139.4,188.5M140.7,188.4L138.4,187.4M140.9,187.9L139.8,187.4M141.2,187.4L140.1,186.9M141.4,186.9L140.9,186.6M141.6,186.4L141.1,186.1M142.4,184.9L141.8,184.6M142.6,184.4L140.9,183.5M142.9,183.9L141.9,183.4M143.4,182.9L141.1,181.7M143.6,182.4L141.9,181.5M143.9,181.9L142.7,181.3M144.2,181.4L143.6,181.2M144.4,181.0L143.8,180.6M144.7,180.5L144.2,180.2M145.0,180.0L143.6,179.2M145.2,179.5L144.6,179.1M145.5,179.0L143.4,177.8M145.8,178.5L144.4,177.7M146.7,177.1L145.2,176.2M147.0,176.6L146.5,176.3M147.3,176.2L145.9,175.3M147.6,175.7L146.4,175.0M147.9,175.2L147.4,174.9M148.2,174.8L147.3,174.2M148.5,174.3L147.2,173.5M148.8,173.8L146.4,172.2M149.4,172.9L148.5,172.3M149.7,172.5L146.5,170.2M150.0,172.0L147.1,170.0M151.0,170.7L150.5,170.3M151.3,170.2L150.6,169.6M151.7,169.8L150.0,168.5M152.0,169.3L149.9,167.8M152.3,168.9L151.0,167.8M152.7,168.4L151.9,167.8M153.0,168.0L151.9,167.1M153.4,167.6L151.4,166.0M153.7,167.1L151.6,165.4M154.1,166.7L152.2,165.1M154.4,166.3L154.0,165.9M154.8,165.8L153.5,164.8M155.5,165.0L155.0,164.6M155.8,164.6L154.4,163.3M156.2,164.1L154.8,163.0M156.6,163.7L156.1,163.3M156.9,163.3L155.2,161.8M157.3,162.9L155.4,161.1M157.7,162.5L156.1,161.0M158.1,162.1L156.5,160.7M158.4,161.7L155.0,158.4M158.8,161.3L156.4,159.0M159.2,160.9L157.6,159.3M159.6,160.5L158.4,159.3M160.0,160.1L159.5,159.6M160.4,159.7L159.9,159.2M161.2,158.9L157.8,155.5M161.6,158.5L161.1,158.0M162.0,158.1L161.2,157.3M162.4,157.7L161.2,156.5M162.8,157.3L162.3,156.9M163.2,156.9L162.8,156.5M163.6,156.6L163.1,156.1M164.0,156.2L162.5,154.6M164.4,155.8L162.5,153.8M164.8,155.4L163.5,154.0M165.2,155.1L163.6,153.2M165.6,154.7L165.2,154.3M166.1,154.3L165.1,153.2M166.5,154.0L165.4,152.7M166.9,153.6L165.4,151.8M167.3,153.3L166.7,152.5M167.8,152.9L165.9,150.6M168.2,152.6L167.4,151.6M169.1,151.9L168.7,151.4M169.5,151.5L169.1,151.0M169.9,151.2L169.6,150.7M170.4,150.8L170.0,150.4M170.8,150.5L170.0,149.4M171.3,150.2L170.2,148.7M171.7,149.8L168.9,146.0M172.2,149.5L170.8,147.6M172.6,149.2L171.0,147.0M173.1,148.9L171.3,146.4M173.5,148.5L172.6,147.2M174.0,148.2L173.6,147.7M174.4,147.9L174.1,147.4M174.9,147.6L174.5,147.1M175.3,147.3L174.6,146.1M175.8,147.0L173.6,143.7M176.3,146.7L174.6,144.2M176.7,146.4L176.4,145.9M177.2,146.1L176.9,145.5M177.7,145.8L177.3,145.2M178.6,145.2L178.0,144.1M179.1,144.9L178.8,144.4M180.0,144.3L179.6,143.5M180.5,144.0L179.3,142.0M181.0,143.7L180.7,143.2M181.5,143.5L181.2,142.9M182.0,143.2L181.4,142.1M182.5,142.9L181.5,141.3M182.9,142.7L182.0,141.0M183.4,142.4L181.9,139.5M184.4,141.9L183.6,140.4M184.9,141.6L183.6,139.1M185.4,141.4L184.0,138.7M185.9,141.1L185.3,139.9M186.4,140.9L185.7,139.5M186.9,140.6L186.1,139.0M187.4,140.4L186.4,138.3M187.9,140.1L187.0,138.2M188.4,139.9L186.4,135.6M188.9,139.7L188.0,137.6M189.4,139.4L188.4,137.1M189.9,139.2L189.0,137.0M190.4,139.0L190.0,137.9M190.9,138.8L190.4,137.4M191.4,138.5L190.6,136.4M192.0,138.3L191.2,136.4M192.5,138.1L191.8,136.6M193.0,137.9L192.4,136.5M193.5,137.7L192.6,135.5M194.0,137.5L193.7,136.6M194.5,137.3L193.5,134.7M195.1,137.1L194.6,135.8M195.6,136.9L194.5,134.1M196.1,136.7L195.8,135.7M197.1,136.3L196.3,133.9M197.7,136.1L196.2,131.9M198.2,136.0L197.3,133.3M198.7,135.8L197.5,132.1M199.3,135.6L198.6,133.5M199.8,135.4L199.3,133.9M200.3,135.3L198.9,130.9M200.8,135.1L200.3,133.2M201.4,134.9L201.2,134.4M201.9,134.8L201.2,132.4M202.4,134.6L201.8,132.3M203.0,134.5L202.7,133.6M203.5,134.3L203.3,133.6M205.1,133.9L204.8,132.5M205.7,133.7L205.5,133.2M206.2,133.6L205.3,129.8M206.7,133.5L206.3,131.6M207.3,133.3L206.8,131.2M207.8,133.2L207.5,132.0M208.4,133.1L208.0,131.4M208.9,133.0L208.7,132.1M209.5,132.9L209.0,130.9M210.0,132.7L209.8,131.7M210.5,132.6L210.2,131.1M211.6,132.4L211.1,129.5M212.2,132.3L211.5,128.7M212.7,132.2L212.4,130.5M213.3,132.1L213.0,130.5M213.8,132.0L213.7,131.0M214.4,131.9L214.2,131.1M214.9,131.9L214.7,130.7M215.5,131.8L215.2,130.3M216.0,131.7L215.8,130.4M216.6,131.6L216.3,130.0M217.1,131.6L217.0,131.0M218.2,131.4L218.1,129.9M218.8,131.4L218.7,130.8M219.3,131.3L219.1,129.0M219.9,131.2L219.4,126.5M220.4,131.2L220.0,126.5M221.0,131.1L220.7,128.4M221.5,131.1L221.4,129.3M222.1,131.0L222.0,130.0M223.8,130.9L223.7,129.2M224.3,130.9L224.2,129.3M224.9,130.9L224.8,129.4M225.4,130.8L225.4,129.9M226.0,130.8L226.0,130.2M227.7,130.8L227.6,128.6M228.8,130.8L228.8,129.9M229.3,130.8L229.3,129.4" stroke="#b010b0" stroke-width="0.8" fill="none"/>
</g>
<line x1="274.0" y1="149.1" x2="273.2" y2="150.7" stroke="#111" stroke-width="0.5"/>
<text x="268.6" y="160.1" font-size="5.15" text-anchor="middle" fill="#111">200 kbp</text>
<line x1="307.1" y1="181.1" x2="305.5" y2="182.0" stroke="#111" stroke-width="0.5"/>
<text x="296.4" y="189.3" font-size="5.15" text-anchor="middle" fill="#111">400 kbp</text>
<line x1="320.2" y1="225.1" x2="318.4" y2="225.2" stroke="#111" stroke-width="0.5"/>
<text x="303.2" y="226.8" font-size="5.15" text-anchor="middle" fill="#111">600 kbp</text>
<line x1="310.0" y1="269.9" x2="308.4" y2="269.1" stroke="#111" stroke-width="0.5"/>
<text x="297.8" y="266.0" font-size="5.15" text-anchor="middle" fill="#111">800 kbp</text>
<line x1="279.1" y1="304.0" x2="278.1" y2="302.5" stroke="#111" stroke-width="0.5"/>
<text x="272.9" y="296.1" font-size="5.15" text-anchor="middle" fill="#111">1000 kbp</text>
<line x1="235.5" y1="318.5" x2="235.4" y2="316.7" stroke="#111" stroke-width="0.5"/>
<text x="235.4" y="309.1" font-size="5.15" text-anchor="middle" fill="#111">1200 kbp</text>
<line x1="190.4" y1="309.8" x2="191.2" y2="308.2" stroke="#111" stroke-width="0.5"/>
<text x="195.4" y="301.8" font-size="5.15" text-anchor="middle" fill="#111">1400 kbp</text>
<line x1="155.4" y1="280.1" x2="156.9" y2="279.0" stroke="#111" stroke-width="0.5"/>
<text x="166.2" y="274.8" font-size="5.15" text-anchor="middle" fill="#111">1600 kbp</text>
<line x1="139.4" y1="237.0" x2="141.2" y2="236.8" stroke="#111" stroke-width="0.5"/>
<text x="152.7" y="237.7" font-size="5.15" text-anchor="middle" fill="#111">1800 kbp</text>
<line x1="146.7" y1="191.6" x2="148.3" y2="192.3" stroke="#111" stroke-width="0.5"/>
<text x="161.4" y="198.0" font-size="5.15" text-anchor="middle" fill="#111">2000 kbp</text>
<line x1="175.2" y1="155.6" x2="176.3" y2="157.1" stroke="#111" stroke-width="0.5"/>
<text x="183.2" y="165.8" font-size="5.15" text-anchor="middle" fill="#111">2200 kbp</text>
<line x1="217.8" y1="138.3" x2="218.0" y2="140.1" stroke="#111" stroke-width="0.5"/>
<text x="218.5" y="151.4" font-size="5.15" text-anchor="middle" fill="#111">2400 kbp</text>
<text x="229.9" y="228.7" font-size="6.7" text-anchor="middle" fill="#111" textLength="99.5" lengthAdjust="spacingAndGlyphs">Corynebacterium rouxii FRC0190</text>
<text x="229.6" y="238.4" font-size="6.75" text-anchor="middle" fill="#111">2451019 bp</text>
<text x="496.2" y="171.2" font-size="2.95" fill="#111" stroke="#111" stroke-width="0.07">GC Skew</text>
<rect x="496.2" y="173.90" width="3.7" height="3.6" fill="#a000a0"/>
<text x="502.2" y="176.75" font-size="2.95" fill="#999" stroke="#999" stroke-width="0.07">GC Skew(-)</text>
<rect x="496.2" y="179.43" width="3.7" height="3.6" fill="#10a010"/>
<text x="502.2" y="182.28" font-size="2.95" fill="#999" stroke="#999" stroke-width="0.07">GC Skew(+)</text>
<rect x="496.2" y="184.96" width="3.7" height="3.6" fill="#000"/>
<text x="502.2" y="187.81" font-size="2.95" fill="#111" stroke="#111" stroke-width="0.07">GC Content</text>
<rect x="496.2" y="190.49" width="3.7" height="3.6" fill="#0c50b0"/>
<text x="502.2" y="193.34" font-size="2.95" fill="#111" stroke="#111" stroke-width="0.07">Corynebacterium rouxii FRC0190</text>
<rect x="496.2" y="196.02" width="3.7" height="3.6" fill="#18d0e0"/>
<text x="502.2" y="198.87" font-size="2.95" fill="#111" stroke="#111" stroke-width="0.07">Corynebacterium rouxii 21395</text>
<rect x="496.2" y="201.55" width="3.7" height="3.6" fill="#109898"/>
<text x="502.2" y="204.40" font-size="2.95" fill="#111" stroke="#111" stroke-width="0.07">Corynebacterium rouxii 56111</text>
<rect x="496.2" y="207.08" width="3.7" height="3.6" fill="#18d090"/>
<text x="502.2" y="209.93" font-size="2.95" fill="#111" stroke="#111" stroke-width="0.07">Corynebacterium rouxii 70862</text>
<rect x="496.2" y="212.61" width="3.7" height="3.6" fill="#386000"/>
<text x="502.2" y="215.46" font-size="2.95" fill="#111" stroke="#111" stroke-width="0.07">Corynebacterium rouxii 70863</text>
<rect x="496.2" y="218.14" width="3.7" height="3.6" fill="#ffffa0"/>
<text x="502.2" y="220.99" font-size="2.95" fill="#111" stroke="#111" stroke-width="0.07">Corynebacterium rouxii FRC0071</text>
<rect x="496.2" y="223.67" width="3.7" height="3.6" fill="#ff9820"/>
<text x="502.2" y="226.52" font-size="2.95" fill="#111" stroke="#111" stroke-width="0.07">Corynebacterium rouxii FRC0284</text>
<rect x="496.2" y="229.20" width="3.7" height="3.6" fill="#f09090"/>
<text x="502.2" y="232.05" font-size="2.95" fill="#111" stroke="#111" stroke-width="0.07">Corynebacterium rouxii FRC0297</text>
<rect x="496.2" y="234.73" width="3.7" height="3.6" fill="#f06858"/>
<text x="502.2" y="237.58" font-size="2.95" fill="#111" stroke="#111" stroke-width="0.07">Corynebacterium rouxii FRC0412</text>
<rect x="496.2" y="240.26" width="3.7" height="3.6" fill="#e000e0"/>
<text x="502.2" y="243.11" font-size="2.95" fill="#111" stroke="#111" stroke-width="0.07">Corynebacterium rouxii FRC0527</text>
<rect x="496.2" y="245.79" width="3.7" height="3.6" fill="#b050e0"/>
<text x="502.2" y="248.64" font-size="2.95" fill="#111" stroke="#111" stroke-width="0.07">Corynebacterium rouxii PC0238</text>
<rect x="496.2" y="251.32" width="3.7" height="3.6" fill="#500090"/>
<text x="502.2" y="254.17" font-size="2.95" fill="#111" stroke="#111" stroke-width="0.07">Corynebacterium rouxii PC0231</text>
<rect x="496.2" y="256.85" width="3.7" height="3.6" fill="#7070e0"/>
<text x="502.2" y="259.70" font-size="2.95" fill="#111" stroke="#111" stroke-width="0.07">Corynebacterium rouxii PC0226</text>
<rect x="496.2" y="262.38" width="3.7" height="3.6" fill="#a8a8a8"/>
<text x="502.2" y="265.23" font-size="2.95" fill="#111" stroke="#111" stroke-width="0.07">Corynebacterium rouxii PC0228</text>
<rect x="496.2" y="267.91" width="3.7" height="3.6" fill="#505050"/>
<text x="502.2" y="270.76" font-size="2.95" fill="#111" stroke="#111" stroke-width="0.07">Corynebacterium rouxii C639</text>
<rect x="496.2" y="273.44" width="3.7" height="3.6" fill="#e00000"/>
<text x="502.2" y="276.29" font-size="2.95" fill="#111" stroke="#111" stroke-width="0.07">Genomic Island (GI)</text>
<rect x="496.2" y="278.97" width="3.7" height="3.6" fill="#400808"/>
<text x="502.2" y="281.82" font-size="2.95" fill="#111" stroke="#111" stroke-width="0.07">Virulence Factor</text>
<rect x="496.2" y="284.50" width="3.7" height="3.6" fill="#0030e0"/>
<text x="502.2" y="287.35" font-size="2.95" fill="#111" stroke="#111" stroke-width="0.07">Antimicrobial Resistance</text>
<path d="M312.27,46.70A199.35,199.35 0 0 1 342.51,63.81" fill="none" stroke="#f20000" stroke-width="4.30"/>
<path d="M354.51,72.74A199.35,199.35 0 0 1 358.27,75.84" fill="none" stroke="#f20000" stroke-width="4.30"/>
<path d="M368.08,84.70A199.35,199.35 0 0 1 382.09,99.69" fill="none" stroke="#f20000" stroke-width="4.30"/>
<path d="M381.64,357.04A199.35,199.35 0 0 1 377.98,361.23" fill="none" stroke="#f20000" stroke-width="4.30"/>
<path d="M34.39,187.67A199.35,199.35 0 0 1 35.13,184.27" fill="none" stroke="#f20000" stroke-width="4.30"/>
<path d="M37.13,176.17A199.35,199.35 0 0 1 39.58,167.82" fill="none" stroke="#f20000" stroke-width="4.30"/>
<path d="M88.39,87.38A199.35,199.35 0 0 1 92.63,83.26" fill="none" stroke="#f20000" stroke-width="4.30"/>
<path d="M183.06,34.26A199.35,199.35 0 0 1 208.07,29.92" fill="none" stroke="#f20000" stroke-width="4.30"/>
<path d="M426.85,197.56A199.60,199.60 0 0 1 427.80,204.47" fill="none" stroke="#f20000" stroke-width="4.60"/>
<path d="M282.67,30.71A204.40,204.40 0 0 1 284.40,31.18" fill="none" stroke="#8a0a0a" stroke-width="4.40"/>
<path d="M305.34,38.25A204.40,204.40 0 0 1 307.00,38.92" fill="none" stroke="#8a0a0a" stroke-width="4.40"/>
<path d="M337.23,54.33A204.40,204.40 0 0 1 338.60,55.19" fill="none" stroke="#8a0a0a" stroke-width="4.40"/>
<path d="M396.32,109.84A204.40,204.40 0 0 1 396.93,110.71" fill="none" stroke="#8a0a0a" stroke-width="4.40"/>
<path d="M411.64,135.15A204.40,204.40 0 0 1 412.12,136.10" fill="none" stroke="#8a0a0a" stroke-width="4.40"/>
<path d="M419.68,152.94A204.40,204.40 0 0 1 420.13,154.10" fill="none" stroke="#8a0a0a" stroke-width="4.40"/>
<path d="M431.79,198.15A204.40,204.40 0 0 1 432.02,199.74" fill="none" stroke="#8a0a0a" stroke-width="4.40"/>
<path d="M433.85,220.16A204.40,204.40 0 0 1 433.90,221.77" fill="none" stroke="#8a0a0a" stroke-width="4.40"/>
<path d="M431.28,261.31A204.40,204.40 0 0 1 431.11,262.36" fill="none" stroke="#8a0a0a" stroke-width="4.40"/>
<path d="M413.70,316.90A204.40,204.40 0 0 1 413.24,317.86" fill="none" stroke="#8a0a0a" stroke-width="4.40"/>
<path d="M372.27,374.47A204.40,204.40 0 0 1 371.93,374.80" fill="none" stroke="#8a0a0a" stroke-width="4.40"/>
<path d="M342.71,398.35A204.40,204.40 0 0 1 340.92,399.52" fill="none" stroke="#8a0a0a" stroke-width="4.40"/>
<path d="M304.76,418.18A204.40,204.40 0 0 1 304.26,418.38" fill="none" stroke="#8a0a0a" stroke-width="4.40"/>
<path d="M122.12,401.96A204.40,204.40 0 0 1 121.66,401.68" fill="none" stroke="#8a0a0a" stroke-width="4.40"/>
<path d="M64.76,107.24A204.40,204.40 0 0 1 65.40,106.37" fill="none" stroke="#8a0a0a" stroke-width="4.40"/>
<path d="M159.69,36.03A204.40,204.40 0 0 1 161.03,35.54" fill="none" stroke="#8a0a0a" stroke-width="4.40"/>
<path d="M60.63,113.27A204.30,204.30 0 0 1 63.48,109.17" fill="none" stroke="#8a0a0a" stroke-width="4.60"/>
<path d="M416.58,134.27A209.20,209.20 0 0 1 417.71,136.56" fill="none" stroke="#1020e8" stroke-width="4.40"/>
<path d="M247.09,436.37A209.00,209.00 0 0 1 246.18,436.44" fill="none" stroke="#1020e8" stroke-width="4.00"/>
<text x="191.7" y="8.8" font-size="3.7" fill="#e03030" text-anchor="middle">GI 9</text>
<line x1="192.0" y1="10.0" x2="192.4" y2="15.3" stroke="#e03030" stroke-width="0.3" stroke-opacity="0.8"/>
<text x="154.2" y="18.2" font-size="3.7" fill="#8c2a2a" text-anchor="middle">mptC</text>
<line x1="154.8" y1="19.3" x2="156.4" y2="26.2" stroke="#8c2a2a" stroke-width="0.3" stroke-opacity="0.8"/>
<text x="71.7" y="70.3" font-size="3.7" fill="#e03030" text-anchor="middle">GI 8</text>
<line x1="74.5" y1="71.0" x2="79.7" y2="75.3" stroke="#e03030" stroke-width="0.3" stroke-opacity="0.8"/>
<text x="13.1" y="165.8" font-size="3.7" fill="#e03030" text-anchor="middle">GI 7</text>
<line x1="17.5" y1="165.3" x2="23.4" y2="167.8" stroke="#e03030" stroke-width="0.3" stroke-opacity="0.8"/>
<text x="9.1" y="182.7" font-size="3.7" fill="#e03030" text-anchor="middle">GI 6</text>
<line x1="13.9" y1="182.1" x2="20.4" y2="184.3" stroke="#e03030" stroke-width="0.3" stroke-opacity="0.8"/>
<text x="312.8" y="22.4" font-size="3.7" fill="#8c2a2a" text-anchor="middle">embC</text>
<line x1="311.6" y1="23.5" x2="308.9" y2="29.5" stroke="#8c2a2a" stroke-width="0.3" stroke-opacity="0.8"/>
<text x="341.6" y="35.8" font-size="3.7" fill="#e03030" text-anchor="middle">GI 1</text>
<line x1="339.5" y1="37.0" x2="335.5" y2="42.5" stroke="#e03030" stroke-width="0.3" stroke-opacity="0.8"/>
<text x="350.8" y="41.0" font-size="3.7" fill="#8c2a2a" text-anchor="middle">spaD</text>
<line x1="348.5" y1="42.0" x2="343.8" y2="46.9" stroke="#8c2a2a" stroke-width="0.3" stroke-opacity="0.8"/>
<text x="373.8" y="57.5" font-size="3.7" fill="#e03030" text-anchor="middle">GI 2</text>
<line x1="371.0" y1="58.5" x2="366.2" y2="62.7" stroke="#e03030" stroke-width="0.3" stroke-opacity="0.8"/>
<text x="395.6" y="77.5" font-size="3.7" fill="#e03030" text-anchor="middle">GI 3</text>
<line x1="392.0" y1="78.8" x2="385.8" y2="83.5" stroke="#e03030" stroke-width="0.3" stroke-opacity="0.8"/>
<text x="416.4" y="101.5" font-size="3.7" fill="#8c2a2a" text-anchor="middle">regX3</text>
<line x1="411.5" y1="102.3" x2="405.5" y2="104.8" stroke="#8c2a2a" stroke-width="0.3" stroke-opacity="0.8"/>
<text x="431.3" y="127.5" font-size="3.7" fill="#8c2a2a" text-anchor="middle">sapD</text>
<line x1="426.8" y1="127.2" x2="420.9" y2="130.9" stroke="#8c2a2a" stroke-width="0.3" stroke-opacity="0.8"/>
<text x="434.2" y="132.2" font-size="3.7" fill="#3a3ae8" text-anchor="middle">rpoB2</text>
<line x1="429.0" y1="131.6" x2="422.2" y2="133.8" stroke="#3a3ae8" stroke-width="0.3" stroke-opacity="0.8"/>
<text x="439.8" y="148.2" font-size="3.7" fill="#8c2a2a" text-anchor="middle">tufA</text>
<line x1="435.9" y1="147.9" x2="429.4" y2="150.2" stroke="#8c2a2a" stroke-width="0.3" stroke-opacity="0.8"/>
<text x="452.1" y="266.4" font-size="3.7" fill="#8c2a2a" text-anchor="middle">sigH</text>
<line x1="447.5" y1="264.6" x2="441.2" y2="264.0" stroke="#8c2a2a" stroke-width="0.3" stroke-opacity="0.8"/>
<text x="433.6" y="325.6" font-size="3.7" fill="#8c2a2a" text-anchor="middle">mgtA</text>
<line x1="429.0" y1="323.4" x2="423.8" y2="322.4" stroke="#8c2a2a" stroke-width="0.3" stroke-opacity="0.8"/>
<text x="400.2" y="374.4" font-size="3.7" fill="#e03030" text-anchor="middle">GI 5</text>
<line x1="396.2" y1="371.5" x2="391.5" y2="369.5" stroke="#e03030" stroke-width="0.3" stroke-opacity="0.8"/>
<text x="387.1" y="388.1" font-size="3.7" fill="#8c2a2a" text-anchor="middle">sigB</text>
<line x1="384.5" y1="384.3" x2="379.5" y2="379.3" stroke="#8c2a2a" stroke-width="0.3" stroke-opacity="0.8"/>
<text x="311.8" y="436.6" font-size="3.7" fill="#8c2a2a" text-anchor="middle">leuD</text>
<line x1="311.0" y1="433.0" x2="305.5" y2="420.5" stroke="#8c2a2a" stroke-width="0.3" stroke-opacity="0.8"/>
<text x="247.3" y="451.1" font-size="3.7" fill="#3a3ae8" text-anchor="middle">RbpA</text>
<line x1="247.2" y1="447.5" x2="246.6" y2="440.0" stroke="#3a3ae8" stroke-width="0.3" stroke-opacity="0.8"/>
<text x="108.4" y="416.9" font-size="3.7" fill="#8c2a2a" text-anchor="middle">dtxR</text>
<line x1="111.5" y1="413.0" x2="118.5" y2="406.5" stroke="#8c2a2a" stroke-width="0.3" stroke-opacity="0.8"/>
<text x="56.4" y="91.2" font-size="3.7" fill="#8c2a2a" text-anchor="end">groEL2</text>
<line x1="56.7" y1="90.4" x2="56.6" y2="102.3" stroke="#8c2a2a" stroke-width="0.3" stroke-opacity="0.8"/>
<text x="52.0" y="96.0" font-size="3.7" fill="#8c2a2a" text-anchor="end">spaA</text>
<line x1="52.3" y1="95.2" x2="56.6" y2="102.3" stroke="#8c2a2a" stroke-width="0.3" stroke-opacity="0.8"/>
<text x="48.4" y="100.3" font-size="3.7" fill="#8c2a2a" text-anchor="end">srtA</text>
<line x1="48.7" y1="99.6" x2="56.6" y2="102.3" stroke="#8c2a2a" stroke-width="0.3" stroke-opacity="0.8"/>
<text x="45.4" y="104.8" font-size="3.7" fill="#8c2a2a" text-anchor="end">spaB</text>
<line x1="45.7" y1="104.0" x2="56.6" y2="102.3" stroke="#8c2a2a" stroke-width="0.3" stroke-opacity="0.8"/>
<text x="41.8" y="111.3" font-size="3.7" fill="#8c2a2a" text-anchor="end">spaC</text>
<line x1="42.1" y1="110.6" x2="56.6" y2="102.3" stroke="#8c2a2a" stroke-width="0.3" stroke-opacity="0.8"/>
<text x="277.3" y="11.1" font-size="3.7" fill="#8c2a2a" text-anchor="middle">irp6A</text>
<line x1="278.8" y1="11.6" x2="287.1" y2="21.8" stroke="#8c2a2a" stroke-width="0.3" stroke-opacity="0.8"/>
<text x="288.6" y="13.9" font-size="3.7" fill="#8c2a2a" text-anchor="middle">irp6B</text>
<line x1="288.6" y1="14.5" x2="287.1" y2="21.8" stroke="#8c2a2a" stroke-width="0.3" stroke-opacity="0.8"/>
<text x="298.4" y="16.9" font-size="3.7" fill="#8c2a2a" text-anchor="middle">irp6C</text>
<line x1="296.4" y1="17.5" x2="287.1" y2="21.8" stroke="#8c2a2a" stroke-width="0.3" stroke-opacity="0.8"/>
<text x="447.3" y="185.8" font-size="3.7" fill="#8c2a2a" text-anchor="start">chtA</text>
<line x1="446.7" y1="184.6" x2="442.2" y2="199.0" stroke="#8c2a2a" stroke-width="0.3" stroke-opacity="0.8"/>
<text x="447.9" y="189.8" font-size="3.7" fill="#8c2a2a" text-anchor="start">ciuA</text>
<line x1="447.3" y1="188.6" x2="442.2" y2="199.0" stroke="#8c2a2a" stroke-width="0.3" stroke-opacity="0.8"/>
<text x="449.0" y="194.6" font-size="3.7" fill="#8c2a2a" text-anchor="start">ciuB</text>
<line x1="448.4" y1="193.3" x2="442.2" y2="199.0" stroke="#8c2a2a" stroke-width="0.3" stroke-opacity="0.8"/>
<text x="449.6" y="200.7" font-size="3.7" fill="#8c2a2a" text-anchor="start">ciuC</text>
<line x1="449.0" y1="199.4" x2="442.2" y2="199.0" stroke="#8c2a2a" stroke-width="0.3" stroke-opacity="0.8"/>
<text x="450.2" y="205.2" font-size="3.7" fill="#8c2a2a" text-anchor="start">ciuD</text>
<line x1="449.6" y1="203.9" x2="442.2" y2="199.0" stroke="#8c2a2a" stroke-width="0.3" stroke-opacity="0.8"/>
<text x="450.7" y="210.1" font-size="3.7" fill="#e03030" text-anchor="start">GI 4</text>
<line x1="450.1" y1="208.8" x2="442.2" y2="199.0" stroke="#e03030" stroke-width="0.3" stroke-opacity="0.8"/>
<text x="451.3" y="216.2" font-size="3.7" fill="#8c2a2a" text-anchor="start">hmuT</text>
<line x1="450.7" y1="214.9" x2="442.8" y2="221.3" stroke="#8c2a2a" stroke-width="0.3" stroke-opacity="0.8"/>
<text x="451.3" y="221.3" font-size="3.7" fill="#8c2a2a" text-anchor="start">hmuU</text>
<line x1="450.7" y1="220.1" x2="442.8" y2="221.3" stroke="#8c2a2a" stroke-width="0.3" stroke-opacity="0.8"/>
<text x="451.3" y="225.9" font-size="3.7" fill="#8c2a2a" text-anchor="start">hmuV</text>
<line x1="450.7" y1="224.7" x2="442.8" y2="221.3" stroke="#8c2a2a" stroke-width="0.3" stroke-opacity="0.8"/>
<text x="366.4" y="406.2" font-size="3.7" fill="#8c2a2a" text-anchor="middle">fagC</text>
<line x1="362.2" y1="405.0" x2="346.3" y2="406.6" stroke="#8c2a2a" stroke-width="0.3" stroke-opacity="0.8"/>
<text x="358.7" y="411.6" font-size="3.7" fill="#8c2a2a" text-anchor="middle">fagB</text>
<line x1="354.5" y1="410.3" x2="346.3" y2="406.6" stroke="#8c2a2a" stroke-width="0.3" stroke-opacity="0.8"/>
<text x="351.1" y="416.6" font-size="3.7" fill="#8c2a2a" text-anchor="middle">fagA</text>
<line x1="346.9" y1="415.3" x2="346.3" y2="406.6" stroke="#8c2a2a" stroke-width="0.3" stroke-opacity="0.8"/>
<text x="343.0" y="421.6" font-size="3.7" fill="#8c2a2a" text-anchor="middle">fagD</text>
<line x1="343.0" y1="418.3" x2="346.3" y2="406.6" stroke="#8c2a2a" stroke-width="0.3" stroke-opacity="0.8"/>
</svg></body></html>
